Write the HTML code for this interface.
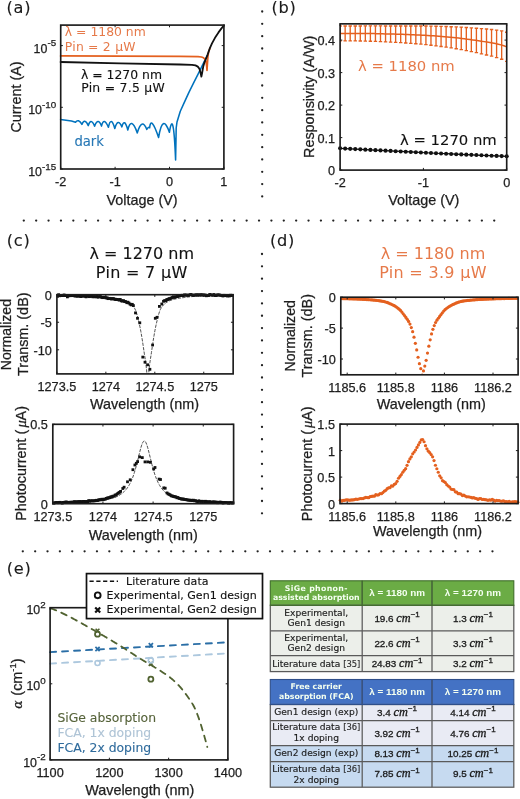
<!DOCTYPE html>
<html><head><meta charset="utf-8"><title>Figure</title>
<style>html,body{margin:0;padding:0;background:#fff;} svg{display:block;}</style>
</head><body>
<svg width="520" height="799" viewBox="0 0 520 799">
<rect width="520" height="799" fill="#fff"/>
<circle cx="23.8" cy="220.6" r="1.15" fill="#222"/>
<circle cx="36.18" cy="220.6" r="1.15" fill="#222"/>
<circle cx="48.56" cy="220.6" r="1.15" fill="#222"/>
<circle cx="60.94" cy="220.6" r="1.15" fill="#222"/>
<circle cx="73.32" cy="220.6" r="1.15" fill="#222"/>
<circle cx="85.7" cy="220.6" r="1.15" fill="#222"/>
<circle cx="98.08" cy="220.6" r="1.15" fill="#222"/>
<circle cx="110.46" cy="220.6" r="1.15" fill="#222"/>
<circle cx="122.84" cy="220.6" r="1.15" fill="#222"/>
<circle cx="135.22" cy="220.6" r="1.15" fill="#222"/>
<circle cx="147.6" cy="220.6" r="1.15" fill="#222"/>
<circle cx="159.98" cy="220.6" r="1.15" fill="#222"/>
<circle cx="172.36" cy="220.6" r="1.15" fill="#222"/>
<circle cx="184.74" cy="220.6" r="1.15" fill="#222"/>
<circle cx="197.12" cy="220.6" r="1.15" fill="#222"/>
<circle cx="209.5" cy="220.6" r="1.15" fill="#222"/>
<circle cx="221.88" cy="220.6" r="1.15" fill="#222"/>
<circle cx="234.26" cy="220.6" r="1.15" fill="#222"/>
<circle cx="246.64" cy="220.6" r="1.15" fill="#222"/>
<circle cx="259.02" cy="220.6" r="1.15" fill="#222"/>
<circle cx="271.4" cy="220.6" r="1.15" fill="#222"/>
<circle cx="283.78" cy="220.6" r="1.15" fill="#222"/>
<circle cx="296.16" cy="220.6" r="1.15" fill="#222"/>
<circle cx="308.54" cy="220.6" r="1.15" fill="#222"/>
<circle cx="320.92" cy="220.6" r="1.15" fill="#222"/>
<circle cx="333.3" cy="220.6" r="1.15" fill="#222"/>
<circle cx="345.68" cy="220.6" r="1.15" fill="#222"/>
<circle cx="358.06" cy="220.6" r="1.15" fill="#222"/>
<circle cx="370.44" cy="220.6" r="1.15" fill="#222"/>
<circle cx="382.82" cy="220.6" r="1.15" fill="#222"/>
<circle cx="395.2" cy="220.6" r="1.15" fill="#222"/>
<circle cx="407.58" cy="220.6" r="1.15" fill="#222"/>
<circle cx="419.96" cy="220.6" r="1.15" fill="#222"/>
<circle cx="432.34" cy="220.6" r="1.15" fill="#222"/>
<circle cx="444.72" cy="220.6" r="1.15" fill="#222"/>
<circle cx="457.1" cy="220.6" r="1.15" fill="#222"/>
<circle cx="469.48" cy="220.6" r="1.15" fill="#222"/>
<circle cx="481.86" cy="220.6" r="1.15" fill="#222"/>
<circle cx="494.24" cy="220.6" r="1.15" fill="#222"/>
<circle cx="22.8" cy="551.3" r="1.15" fill="#222"/>
<circle cx="35.16" cy="551.3" r="1.15" fill="#222"/>
<circle cx="47.52" cy="551.3" r="1.15" fill="#222"/>
<circle cx="59.88" cy="551.3" r="1.15" fill="#222"/>
<circle cx="72.24" cy="551.3" r="1.15" fill="#222"/>
<circle cx="84.6" cy="551.3" r="1.15" fill="#222"/>
<circle cx="96.96" cy="551.3" r="1.15" fill="#222"/>
<circle cx="109.32" cy="551.3" r="1.15" fill="#222"/>
<circle cx="121.68" cy="551.3" r="1.15" fill="#222"/>
<circle cx="134.04" cy="551.3" r="1.15" fill="#222"/>
<circle cx="146.4" cy="551.3" r="1.15" fill="#222"/>
<circle cx="158.76" cy="551.3" r="1.15" fill="#222"/>
<circle cx="171.12" cy="551.3" r="1.15" fill="#222"/>
<circle cx="183.48" cy="551.3" r="1.15" fill="#222"/>
<circle cx="195.84" cy="551.3" r="1.15" fill="#222"/>
<circle cx="208.2" cy="551.3" r="1.15" fill="#222"/>
<circle cx="220.56" cy="551.3" r="1.15" fill="#222"/>
<circle cx="232.92" cy="551.3" r="1.15" fill="#222"/>
<circle cx="245.28" cy="551.3" r="1.15" fill="#222"/>
<circle cx="257.64" cy="551.3" r="1.15" fill="#222"/>
<circle cx="270" cy="551.3" r="1.15" fill="#222"/>
<circle cx="282.36" cy="551.3" r="1.15" fill="#222"/>
<circle cx="294.72" cy="551.3" r="1.15" fill="#222"/>
<circle cx="307.08" cy="551.3" r="1.15" fill="#222"/>
<circle cx="319.44" cy="551.3" r="1.15" fill="#222"/>
<circle cx="331.8" cy="551.3" r="1.15" fill="#222"/>
<circle cx="344.16" cy="551.3" r="1.15" fill="#222"/>
<circle cx="356.52" cy="551.3" r="1.15" fill="#222"/>
<circle cx="368.88" cy="551.3" r="1.15" fill="#222"/>
<circle cx="381.24" cy="551.3" r="1.15" fill="#222"/>
<circle cx="393.6" cy="551.3" r="1.15" fill="#222"/>
<circle cx="405.96" cy="551.3" r="1.15" fill="#222"/>
<circle cx="418.32" cy="551.3" r="1.15" fill="#222"/>
<circle cx="430.68" cy="551.3" r="1.15" fill="#222"/>
<circle cx="443.04" cy="551.3" r="1.15" fill="#222"/>
<circle cx="455.4" cy="551.3" r="1.15" fill="#222"/>
<circle cx="467.76" cy="551.3" r="1.15" fill="#222"/>
<circle cx="480.12" cy="551.3" r="1.15" fill="#222"/>
<circle cx="492.48" cy="551.3" r="1.15" fill="#222"/>
<circle cx="262.2" cy="11.5" r="1.15" fill="#222"/>
<circle cx="262.2" cy="23.83" r="1.15" fill="#222"/>
<circle cx="262.2" cy="36.16" r="1.15" fill="#222"/>
<circle cx="262.2" cy="48.49" r="1.15" fill="#222"/>
<circle cx="262.2" cy="60.82" r="1.15" fill="#222"/>
<circle cx="262.2" cy="73.15" r="1.15" fill="#222"/>
<circle cx="262.2" cy="85.48" r="1.15" fill="#222"/>
<circle cx="262.2" cy="97.81" r="1.15" fill="#222"/>
<circle cx="262.2" cy="110.14" r="1.15" fill="#222"/>
<circle cx="262.2" cy="122.47" r="1.15" fill="#222"/>
<circle cx="262.2" cy="134.8" r="1.15" fill="#222"/>
<circle cx="262.2" cy="147.13" r="1.15" fill="#222"/>
<circle cx="262.2" cy="159.46" r="1.15" fill="#222"/>
<circle cx="262.2" cy="171.79" r="1.15" fill="#222"/>
<circle cx="262.2" cy="184.12" r="1.15" fill="#222"/>
<circle cx="262.2" cy="196.45" r="1.15" fill="#222"/>
<circle cx="262" cy="254" r="1.15" fill="#222"/>
<circle cx="262" cy="266.35" r="1.15" fill="#222"/>
<circle cx="262" cy="278.7" r="1.15" fill="#222"/>
<circle cx="262" cy="291.05" r="1.15" fill="#222"/>
<circle cx="262" cy="303.4" r="1.15" fill="#222"/>
<circle cx="262" cy="315.75" r="1.15" fill="#222"/>
<circle cx="262" cy="328.1" r="1.15" fill="#222"/>
<circle cx="262" cy="340.45" r="1.15" fill="#222"/>
<circle cx="262" cy="352.8" r="1.15" fill="#222"/>
<circle cx="262" cy="365.15" r="1.15" fill="#222"/>
<circle cx="262" cy="377.5" r="1.15" fill="#222"/>
<circle cx="262" cy="389.85" r="1.15" fill="#222"/>
<circle cx="262" cy="402.2" r="1.15" fill="#222"/>
<circle cx="262" cy="414.55" r="1.15" fill="#222"/>
<circle cx="262" cy="426.9" r="1.15" fill="#222"/>
<circle cx="262" cy="439.25" r="1.15" fill="#222"/>
<circle cx="262" cy="451.6" r="1.15" fill="#222"/>
<circle cx="262" cy="463.95" r="1.15" fill="#222"/>
<circle cx="262" cy="476.3" r="1.15" fill="#222"/>
<circle cx="262" cy="488.65" r="1.15" fill="#222"/>
<circle cx="262" cy="501" r="1.15" fill="#222"/>
<circle cx="262" cy="513.35" r="1.15" fill="#222"/>
<text x="6.6" y="12.7" font-family="DejaVu Sans" font-size="16.2" fill="#1a1a1a" stroke="#1a1a1a" stroke-width="0.12" letter-spacing="0.7">(a)</text>
<text x="271.4" y="12.7" font-family="DejaVu Sans" font-size="16.2" fill="#1a1a1a" stroke="#1a1a1a" stroke-width="0.12" letter-spacing="0.7">(b)</text>
<text x="6.8" y="245.9" font-family="DejaVu Sans" font-size="16.2" fill="#1a1a1a" stroke="#1a1a1a" stroke-width="0.12" letter-spacing="0.7">(c)</text>
<text x="269.9" y="245.6" font-family="DejaVu Sans" font-size="16.2" fill="#1a1a1a" stroke="#1a1a1a" stroke-width="0.12" letter-spacing="0.7">(d)</text>
<text x="6.8" y="573.5" font-family="DejaVu Sans" font-size="16.2" fill="#1a1a1a" stroke="#1a1a1a" stroke-width="0.12" letter-spacing="0.7">(e)</text>
<path d="M60.6 119.6 L66 120.2 L71.5 121.0 L75.5 122.2 Q78.3 118.3 81.9 124.4 Q84.5 117.6 88.3 125.6 Q90.75 117.15 94.6 126.1 Q98.15 116.9 101.5 126.1 Q103.85 116.3 108.4 127.3 Q111 115.1 114.8 128.5 Q117.85 117.3 121.9 126.9 Q124.35 117.15 127.8 130 Q131.05 115.75 137.3 132.9 Q141.75 117.25 146.8 129.4 Q149 126.2 149.6 127.8 Q150.9 114.75 158.6 137.5 Q162.6 112.5 169.4 132.3 Q173.5 106.45 175.6 160 L176.2 128 L177 122 L178 118.8 L180.3 111.3 L184.1 102.9 L188.8 92.6 L193.5 83.2 L198.2 73.8 L201.9 66.3 L204.7 60.6 L207.6 55" fill="none" stroke="#0072BD" stroke-width="1.55" stroke-linejoin="round" stroke-linecap="round"/>
<path d="M60.6 55.9 L120 56.2 L180 56.4 L198 56.6 L201.5 57 L203.5 57.8 L205 59.2 L206 61.8 L206.6 65.5 L207 70.5 L207.4 64 L207.9 57 L208.6 52 L210 48" fill="none" stroke="#E4601F" stroke-width="1.7" stroke-linejoin="round" stroke-linecap="round" />
<path d="M60.6 62 L120 63.3 L180 64.5 L192 64.9 L195.5 65.4 L197.8 66.6 L199.4 68.8 L200.5 72.5 L201.4 76.7 L202.2 72.5 L203.2 66.8 L204.5 62.3 L205.6 59.6 L207.6 54.6 L210 47.8 L212 43.4 L215 37.8 L218.5 32.4 L221.3 28.6 L224 25.3" fill="none" stroke="#111" stroke-width="1.8" stroke-linejoin="round" stroke-linecap="round" />
<rect x="60.7" y="25.1" width="163.2" height="143.9" fill="none" stroke="#1c1c1c" stroke-width="1.65"/>
<path d="M60.7 169 V166.8 M60.7 25.1 V27.3" stroke="#1c1c1c" stroke-width="1"/>
<path d="M115.1 169 V166.8 M115.1 25.1 V27.3" stroke="#1c1c1c" stroke-width="1"/>
<path d="M169.5 169 V166.8 M169.5 25.1 V27.3" stroke="#1c1c1c" stroke-width="1"/>
<path d="M223.9 169 V166.8 M223.9 25.1 V27.3" stroke="#1c1c1c" stroke-width="1"/>
<path d="M60.7 169 H62.9 M223.9 169 H221.7" stroke="#1c1c1c" stroke-width="1"/>
<path d="M60.7 107.3 H62.9 M223.9 107.3 H221.7" stroke="#1c1c1c" stroke-width="1"/>
<path d="M60.7 45.6 H62.9 M223.9 45.6 H221.7" stroke="#1c1c1c" stroke-width="1"/>
<text x="60.7" y="186.1" font-family="Liberation Sans" font-size="12.7" fill="#1e1e1e" stroke="#1e1e1e" stroke-width="0.25" text-anchor="middle" >-2</text>
<text x="115.1" y="186.1" font-family="Liberation Sans" font-size="12.7" fill="#1e1e1e" stroke="#1e1e1e" stroke-width="0.25" text-anchor="middle" >-1</text>
<text x="169.5" y="186.1" font-family="Liberation Sans" font-size="12.7" fill="#1e1e1e" stroke="#1e1e1e" stroke-width="0.25" text-anchor="middle" >0</text>
<text x="223.9" y="186.1" font-family="Liberation Sans" font-size="12.7" fill="#1e1e1e" stroke="#1e1e1e" stroke-width="0.25" text-anchor="middle" >1</text>
<text x="56.1" y="52.5" font-family="Liberation Sans" font-size="12.4" fill="#1e1e1e" stroke="#1e1e1e" stroke-width="0.25" text-anchor="end">10<tspan font-size="9.8" dy="-6.3">-5</tspan></text>
<text x="56.1" y="114.2" font-family="Liberation Sans" font-size="12.4" fill="#1e1e1e" stroke="#1e1e1e" stroke-width="0.25" text-anchor="end">10<tspan font-size="9.8" dy="-6.3">-10</tspan></text>
<text x="56.1" y="175.9" font-family="Liberation Sans" font-size="12.4" fill="#1e1e1e" stroke="#1e1e1e" stroke-width="0.25" text-anchor="end">10<tspan font-size="9.8" dy="-6.3">-15</tspan></text>
<text transform="translate(21.2,97) rotate(-90)" font-family="Liberation Sans" font-size="14.4" fill="#1e1e1e" stroke="#1e1e1e" stroke-width="0.25" text-anchor="middle" >Current (A)</text>
<text x="142" y="204.6" font-family="Liberation Sans" font-size="14.4" fill="#1e1e1e" stroke="#1e1e1e" stroke-width="0.25" text-anchor="middle" >Voltage (V)</text>
<text x="64.8" y="35.9" font-family="DejaVu Sans" font-size="12.4" fill="#E67A4A" >λ = 1180 nm</text>
<text x="64.8" y="50.5" font-family="DejaVu Sans" font-size="12.4" fill="#E67A4A" letter-spacing="0.22">Pin = 2 μW</text>
<text x="81" y="78.5" font-family="DejaVu Sans" font-size="12.4" fill="#111" stroke="#111" stroke-width="0.12" >λ = 1270 nm</text>
<text x="81.2" y="92.3" font-family="DejaVu Sans" font-size="12.4" fill="#111" stroke="#111" stroke-width="0.12" letter-spacing="0.27">Pin = 7.5 μW</text>
<text x="74.4" y="145.8" font-family="DejaVu Sans" font-size="13.2" fill="#2677B5" stroke="#2677B5" stroke-width="0.1" >dark</text>
<clipPath id="cb"><rect x="340.1" y="23.85" width="166.59999999999997" height="146.25"/></clipPath>
<g clip-path="url(#cb)">
<path d="M340.1 33.4 L342.92 33.4 L345.75 33.41 L348.57 33.41 L351.39 33.42 L354.22 33.44 L357.04 33.45 L359.87 33.47 L362.69 33.48 L365.51 33.5 L368.34 33.53 L371.16 33.57 L373.98 33.62 L376.81 33.68 L379.63 33.74 L382.46 33.81 L385.28 33.88 L388.1 33.95 L390.93 34.02 L393.75 34.1 L396.57 34.18 L399.4 34.26 L402.22 34.35 L405.05 34.45 L407.87 34.55 L410.69 34.66 L413.52 34.77 L416.34 34.89 L419.16 35.02 L421.99 35.15 L424.81 35.29 L427.64 35.45 L430.46 35.63 L433.28 35.82 L436.11 36.03 L438.93 36.25 L441.75 36.48 L444.58 36.72 L447.4 36.97 L450.23 37.24 L453.05 37.51 L455.87 37.79 L458.7 38.09 L461.52 38.42 L464.34 38.77 L467.17 39.14 L469.99 39.52 L472.82 39.93 L475.64 40.34 L478.46 40.77 L481.29 41.2 L484.11 41.63 L486.93 42.07 L489.76 42.53 L492.58 43.03 L495.41 43.57 L498.23 44.18 L501.05 44.88 L503.88 45.79 L506.7 46.83" fill="none" stroke="#E4601F" stroke-width="1.5" stroke-linejoin="round" stroke-linecap="round" />
<path d="M340.1 26 V40.8 M338.4 26 H341.8 M338.4 40.8 H341.8" stroke="#E4601F" stroke-width="1.35"/>
<path d="M345.15 26 V40.81 M343.45 26 H346.85 M343.45 40.81 H346.85" stroke="#E4601F" stroke-width="1.35"/>
<path d="M350.2 25.99 V40.85 M348.5 25.99 H351.9 M348.5 40.85 H351.9" stroke="#E4601F" stroke-width="1.35"/>
<path d="M355.25 25.98 V40.9 M353.55 25.98 H356.95 M353.55 40.9 H356.95" stroke="#E4601F" stroke-width="1.35"/>
<path d="M360.29 25.96 V40.98 M358.59 25.96 H361.99 M358.59 40.98 H361.99" stroke="#E4601F" stroke-width="1.35"/>
<path d="M365.34 25.94 V41.07 M363.64 25.94 H367.04 M363.64 41.07 H367.04" stroke="#E4601F" stroke-width="1.35"/>
<path d="M370.39 25.92 V41.2 M368.69 25.92 H372.09 M368.69 41.2 H372.09" stroke="#E4601F" stroke-width="1.35"/>
<path d="M375.44 25.92 V41.37 M373.74 25.92 H377.14 M373.74 41.37 H377.14" stroke="#E4601F" stroke-width="1.35"/>
<path d="M380.49 25.94 V41.58 M378.79 25.94 H382.19 M378.79 41.58 H382.19" stroke="#E4601F" stroke-width="1.35"/>
<path d="M385.54 25.95 V41.82 M383.84 25.95 H387.24 M383.84 41.82 H387.24" stroke="#E4601F" stroke-width="1.35"/>
<path d="M390.58 25.95 V42.08 M388.88 25.95 H392.28 M388.88 42.08 H392.28" stroke="#E4601F" stroke-width="1.35"/>
<path d="M395.63 25.95 V42.35 M393.93 25.95 H397.33 M393.93 42.35 H397.33" stroke="#E4601F" stroke-width="1.35"/>
<path d="M400.68 25.95 V42.66 M398.98 25.95 H402.38 M398.98 42.66 H402.38" stroke="#E4601F" stroke-width="1.35"/>
<path d="M405.73 25.96 V42.99 M404.03 25.96 H407.43 M404.03 42.99 H407.43" stroke="#E4601F" stroke-width="1.35"/>
<path d="M410.78 25.96 V43.36 M409.08 25.96 H412.48 M409.08 43.36 H412.48" stroke="#E4601F" stroke-width="1.35"/>
<path d="M415.83 25.98 V43.75 M414.13 25.98 H417.53 M414.13 43.75 H417.53" stroke="#E4601F" stroke-width="1.35"/>
<path d="M420.88 26 V44.19 M419.18 26 H422.58 M419.18 44.19 H422.58" stroke="#E4601F" stroke-width="1.35"/>
<path d="M425.92 26.04 V44.67 M424.22 26.04 H427.62 M424.22 44.67 H427.62" stroke="#E4601F" stroke-width="1.35"/>
<path d="M430.97 26.12 V45.21 M429.27 26.12 H432.67 M429.27 45.21 H432.67" stroke="#E4601F" stroke-width="1.35"/>
<path d="M436.02 26.23 V45.81 M434.32 26.23 H437.72 M434.32 45.81 H437.72" stroke="#E4601F" stroke-width="1.35"/>
<path d="M441.07 26.38 V46.47 M439.37 26.38 H442.77 M439.37 46.47 H442.77" stroke="#E4601F" stroke-width="1.35"/>
<path d="M446.12 26.54 V47.17 M444.42 26.54 H447.82 M444.42 47.17 H447.82" stroke="#E4601F" stroke-width="1.35"/>
<path d="M451.17 26.73 V47.93 M449.47 26.73 H452.87 M449.47 47.93 H452.87" stroke="#E4601F" stroke-width="1.35"/>
<path d="M456.22 26.93 V48.72 M454.52 26.93 H457.92 M454.52 48.72 H457.92" stroke="#E4601F" stroke-width="1.35"/>
<path d="M461.26 27.18 V49.59 M459.56 27.18 H462.96 M459.56 49.59 H462.96" stroke="#E4601F" stroke-width="1.35"/>
<path d="M466.31 27.49 V50.55 M464.61 27.49 H468.01 M464.61 50.55 H468.01" stroke="#E4601F" stroke-width="1.35"/>
<path d="M471.36 27.85 V51.59 M469.66 27.85 H473.06 M469.66 51.59 H473.06" stroke="#E4601F" stroke-width="1.35"/>
<path d="M476.41 28.24 V52.68 M474.71 28.24 H478.11 M474.71 52.68 H478.11" stroke="#E4601F" stroke-width="1.35"/>
<path d="M481.46 28.64 V53.81 M479.76 28.64 H483.16 M479.76 53.81 H483.16" stroke="#E4601F" stroke-width="1.35"/>
<path d="M486.51 29.04 V54.96 M484.81 29.04 H488.21 M484.81 54.96 H488.21" stroke="#E4601F" stroke-width="1.35"/>
<path d="M491.55 29.49 V56.19 M489.85 29.49 H493.25 M489.85 56.19 H493.25" stroke="#E4601F" stroke-width="1.35"/>
<path d="M496.6 30.07 V57.58 M494.9 30.07 H498.3 M494.9 57.58 H498.3" stroke="#E4601F" stroke-width="1.35"/>
<path d="M501.65 30.88 V59.23 M499.95 30.88 H503.35 M499.95 59.23 H503.35" stroke="#E4601F" stroke-width="1.35"/>
<path d="M506.7 32.23 V61.43 M505 32.23 H508.4 M505 61.43 H508.4" stroke="#E4601F" stroke-width="1.35"/>
</g>
<path d="M340.1 148.32 L345.15 148.58 L350.2 148.84 L355.25 149.11 L360.29 149.37 L365.34 149.63 L370.39 149.89 L375.44 150.15 L380.49 150.41 L385.54 150.67 L390.58 150.92 L395.63 151.18 L400.68 151.44 L405.73 151.7 L410.78 151.96 L415.83 152.22 L420.88 152.48 L425.92 152.73 L430.97 152.99 L436.02 153.24 L441.07 153.48 L446.12 153.72 L451.17 153.95 L456.22 154.18 L461.26 154.41 L466.31 154.63 L471.36 154.85 L476.41 155.07 L481.46 155.28 L486.51 155.49 L491.55 155.7 L496.6 155.9 L501.65 156.1 L506.7 156.29" fill="none" stroke="#111" stroke-width="1.2" stroke-linejoin="round" stroke-linecap="round" />
<circle cx="340.1" cy="148.32" r="2.05" fill="#111"/>
<circle cx="345.15" cy="148.58" r="2.05" fill="#111"/>
<circle cx="350.2" cy="148.84" r="2.05" fill="#111"/>
<circle cx="355.25" cy="149.11" r="2.05" fill="#111"/>
<circle cx="360.29" cy="149.37" r="2.05" fill="#111"/>
<circle cx="365.34" cy="149.63" r="2.05" fill="#111"/>
<circle cx="370.39" cy="149.89" r="2.05" fill="#111"/>
<circle cx="375.44" cy="150.15" r="2.05" fill="#111"/>
<circle cx="380.49" cy="150.41" r="2.05" fill="#111"/>
<circle cx="385.54" cy="150.67" r="2.05" fill="#111"/>
<circle cx="390.58" cy="150.92" r="2.05" fill="#111"/>
<circle cx="395.63" cy="151.18" r="2.05" fill="#111"/>
<circle cx="400.68" cy="151.44" r="2.05" fill="#111"/>
<circle cx="405.73" cy="151.7" r="2.05" fill="#111"/>
<circle cx="410.78" cy="151.96" r="2.05" fill="#111"/>
<circle cx="415.83" cy="152.22" r="2.05" fill="#111"/>
<circle cx="420.88" cy="152.48" r="2.05" fill="#111"/>
<circle cx="425.92" cy="152.73" r="2.05" fill="#111"/>
<circle cx="430.97" cy="152.99" r="2.05" fill="#111"/>
<circle cx="436.02" cy="153.24" r="2.05" fill="#111"/>
<circle cx="441.07" cy="153.48" r="2.05" fill="#111"/>
<circle cx="446.12" cy="153.72" r="2.05" fill="#111"/>
<circle cx="451.17" cy="153.95" r="2.05" fill="#111"/>
<circle cx="456.22" cy="154.18" r="2.05" fill="#111"/>
<circle cx="461.26" cy="154.41" r="2.05" fill="#111"/>
<circle cx="466.31" cy="154.63" r="2.05" fill="#111"/>
<circle cx="471.36" cy="154.85" r="2.05" fill="#111"/>
<circle cx="476.41" cy="155.07" r="2.05" fill="#111"/>
<circle cx="481.46" cy="155.28" r="2.05" fill="#111"/>
<circle cx="486.51" cy="155.49" r="2.05" fill="#111"/>
<circle cx="491.55" cy="155.7" r="2.05" fill="#111"/>
<circle cx="496.6" cy="155.9" r="2.05" fill="#111"/>
<circle cx="501.65" cy="156.1" r="2.05" fill="#111"/>
<circle cx="506.7" cy="156.29" r="2.05" fill="#111"/>
<rect x="340.1" y="23.85" width="166.6" height="146.25" fill="none" stroke="#1c1c1c" stroke-width="1.65"/>
<path d="M340.1 170.1 V167.9 M340.1 23.85 V26.05" stroke="#1c1c1c" stroke-width="1"/>
<path d="M423.4 170.1 V167.9 M423.4 23.85 V26.05" stroke="#1c1c1c" stroke-width="1"/>
<path d="M506.7 170.1 V167.9 M506.7 23.85 V26.05" stroke="#1c1c1c" stroke-width="1"/>
<path d="M340.1 170.1 H342.3 M506.7 170.1 H504.5" stroke="#1c1c1c" stroke-width="1"/>
<path d="M340.1 137.6 H342.3 M506.7 137.6 H504.5" stroke="#1c1c1c" stroke-width="1"/>
<path d="M340.1 105.1 H342.3 M506.7 105.1 H504.5" stroke="#1c1c1c" stroke-width="1"/>
<path d="M340.1 72.6 H342.3 M506.7 72.6 H504.5" stroke="#1c1c1c" stroke-width="1"/>
<path d="M340.1 40.1 H342.3 M506.7 40.1 H504.5" stroke="#1c1c1c" stroke-width="1"/>
<text x="340.1" y="187.2" font-family="Liberation Sans" font-size="12.7" fill="#1e1e1e" stroke="#1e1e1e" stroke-width="0.25" text-anchor="middle" >-2</text>
<text x="423.4" y="187.2" font-family="Liberation Sans" font-size="12.7" fill="#1e1e1e" stroke="#1e1e1e" stroke-width="0.25" text-anchor="middle" >-1</text>
<text x="506.7" y="187.2" font-family="Liberation Sans" font-size="12.7" fill="#1e1e1e" stroke="#1e1e1e" stroke-width="0.25" text-anchor="middle" >0</text>
<text x="335.1" y="175" font-family="Liberation Sans" font-size="12.7" fill="#1e1e1e" stroke="#1e1e1e" stroke-width="0.25" text-anchor="end" >0</text>
<text x="335.1" y="142.5" font-family="Liberation Sans" font-size="12.7" fill="#1e1e1e" stroke="#1e1e1e" stroke-width="0.25" text-anchor="end" >0.1</text>
<text x="335.1" y="110" font-family="Liberation Sans" font-size="12.7" fill="#1e1e1e" stroke="#1e1e1e" stroke-width="0.25" text-anchor="end" >0.2</text>
<text x="335.1" y="77.5" font-family="Liberation Sans" font-size="12.7" fill="#1e1e1e" stroke="#1e1e1e" stroke-width="0.25" text-anchor="end" >0.3</text>
<text x="335.1" y="45" font-family="Liberation Sans" font-size="12.7" fill="#1e1e1e" stroke="#1e1e1e" stroke-width="0.25" text-anchor="end" >0.4</text>
<text transform="translate(313.6,96.8) rotate(-90)" font-family="Liberation Sans" font-size="14.4" fill="#1e1e1e" stroke="#1e1e1e" stroke-width="0.25" text-anchor="middle" >Responsivity (A/W)</text>
<text x="423.8" y="205.3" font-family="Liberation Sans" font-size="14.4" fill="#1e1e1e" stroke="#1e1e1e" stroke-width="0.25" text-anchor="middle" >Voltage (V)</text>
<text x="358" y="70.5" font-family="DejaVu Sans" font-size="14.8" fill="#E67A4A" >λ = 1180 nm</text>
<text x="400" y="144.5" font-family="DejaVu Sans" font-size="14.8" fill="#111" stroke="#111" stroke-width="0.12" >λ = 1270 nm</text>
<clipPath id="cc1"><rect x="56.9" y="292.7" width="176.25" height="81.19999999999999"/></clipPath>
<g clip-path="url(#cc1)">
<path d="M56.9 294.77 L57.34 294.78 L57.78 294.78 L58.23 294.79 L58.67 294.8 L59.11 294.8 L59.55 294.81 L59.99 294.82 L60.43 294.83 L60.88 294.83 L61.32 294.84 L61.76 294.85 L62.2 294.86 L62.64 294.87 L63.08 294.88 L63.53 294.89 L63.97 294.9 L64.41 294.91 L64.85 294.92 L65.29 294.93 L65.73 294.94 L66.18 294.95 L66.62 294.96 L67.06 294.97 L67.5 294.98 L67.94 294.99 L68.38 295 L68.83 295.01 L69.27 295.02 L69.71 295.03 L70.15 295.05 L70.59 295.06 L71.04 295.07 L71.48 295.08 L71.92 295.09 L72.36 295.1 L72.8 295.12 L73.24 295.13 L73.69 295.14 L74.13 295.15 L74.57 295.16 L75.01 295.17 L75.45 295.19 L75.89 295.2 L76.34 295.21 L76.78 295.22 L77.22 295.24 L77.66 295.25 L78.1 295.26 L78.54 295.27 L78.99 295.28 L79.43 295.3 L79.87 295.31 L80.31 295.33 L80.75 295.34 L81.2 295.35 L81.64 295.37 L82.08 295.38 L82.52 295.4 L82.96 295.42 L83.4 295.43 L83.85 295.45 L84.29 295.47 L84.73 295.48 L85.17 295.5 L85.61 295.52 L86.05 295.54 L86.5 295.56 L86.94 295.57 L87.38 295.59 L87.82 295.61 L88.26 295.63 L88.7 295.66 L89.15 295.68 L89.59 295.7 L90.03 295.72 L90.47 295.74 L90.91 295.76 L91.35 295.79 L91.8 295.81 L92.24 295.83 L92.68 295.86 L93.12 295.88 L93.56 295.91 L94.01 295.93 L94.45 295.96 L94.89 295.98 L95.33 296.01 L95.77 296.04 L96.21 296.06 L96.66 296.09 L97.1 296.12 L97.54 296.15 L97.98 296.18 L98.42 296.21 L98.86 296.24 L99.31 296.27 L99.75 296.3 L100.19 296.33 L100.63 296.36 L101.07 296.39 L101.51 296.42 L101.96 296.46 L102.4 296.49 L102.84 296.52 L103.28 296.56 L103.72 296.59 L104.17 296.63 L104.61 296.67 L105.05 296.72 L105.49 296.76 L105.93 296.81 L106.37 296.86 L106.82 296.91 L107.26 296.96 L107.7 297.02 L108.14 297.07 L108.58 297.13 L109.02 297.19 L109.47 297.25 L109.91 297.31 L110.35 297.37 L110.79 297.43 L111.23 297.5 L111.67 297.56 L112.12 297.63 L112.56 297.69 L113 297.76 L113.44 297.83 L113.88 297.89 L114.32 297.96 L114.77 298.03 L115.21 298.1 L115.65 298.17 L116.09 298.24 L116.53 298.31 L116.98 298.39 L117.42 298.47 L117.86 298.54 L118.3 298.63 L118.74 298.71 L119.18 298.8 L119.63 298.89 L120.07 298.98 L120.51 299.08 L120.95 299.18 L121.39 299.28 L121.83 299.39 L122.28 299.51 L122.72 299.62 L123.16 299.75 L123.6 299.88 L124.04 300.01 L124.48 300.16 L124.93 300.31 L125.37 300.49 L125.81 300.67 L126.25 300.87 L126.69 301.08 L127.13 301.31 L127.58 301.55 L128.02 301.8 L128.46 302.06 L128.9 302.34 L129.34 302.63 L129.79 302.94 L130.23 303.26 L130.67 303.6 L131.11 303.97 L131.55 304.38 L131.99 304.82 L132.44 305.3 L132.88 305.83 L133.32 306.4 L133.76 307.01 L134.2 307.68 L134.64 308.4 L135.09 309.19 L135.53 310.13 L135.97 311.28 L136.41 312.61 L136.85 314.08 L137.29 315.69 L137.74 317.39 L138.18 319.18 L138.62 321.02 L139.06 322.89 L139.5 324.79 L139.95 326.85 L140.39 329.08 L140.83 331.45 L141.27 333.92 L141.71 336.48 L142.15 339.1 L142.6 341.88 L143.04 344.83 L143.48 347.87 L143.92 350.91 L144.36 353.83 L144.8 356.61 L145.25 359.43 L145.69 362.48 L146.13 365.94 L146.57 370.07 L147.01 375.1 L147.45 380.82 L147.9 384.26 L148.34 378.26 L148.78 372.81 L149.22 368.16 L149.66 364.37 L150.1 361.11 L150.55 358.19 L150.99 355.41 L151.43 352.59 L151.87 349.59 L152.31 346.54 L152.76 343.53 L153.2 340.64 L153.64 337.96 L154.08 335.36 L154.52 332.83 L154.96 330.4 L155.41 328.09 L155.85 325.93 L156.29 323.95 L156.73 322.07 L157.17 320.21 L157.61 318.39 L158.06 316.64 L158.5 314.97 L158.94 313.42 L159.38 312.01 L159.82 310.76 L160.26 309.69 L160.71 308.84 L161.15 308.08 L161.59 307.38 L162.03 306.74 L162.47 306.14 L162.92 305.59 L163.36 305.09 L163.8 304.62 L164.24 304.2 L164.68 303.81 L165.12 303.45 L165.57 303.12 L166.01 302.81 L166.45 302.51 L166.89 302.22 L167.33 301.95 L167.77 301.69 L168.22 301.44 L168.66 301.21 L169.1 300.99 L169.54 300.78 L169.98 300.59 L170.42 300.41 L170.87 300.24 L171.31 300.09 L171.75 299.95 L172.19 299.82 L172.63 299.69 L173.07 299.57 L173.52 299.46 L173.96 299.35 L174.4 299.24 L174.84 299.14 L175.28 299.04 L175.73 298.94 L176.17 298.85 L176.61 298.76 L177.05 298.67 L177.49 298.59 L177.93 298.51 L178.38 298.43 L178.82 298.36 L179.26 298.28 L179.7 298.21 L180.14 298.14 L180.58 298.07 L181.03 298 L181.47 297.93 L181.91 297.86 L182.35 297.8 L182.79 297.73 L183.23 297.67 L183.68 297.6 L184.12 297.53 L184.56 297.47 L185 297.41 L185.44 297.34 L185.88 297.28 L186.33 297.22 L186.77 297.16 L187.21 297.11 L187.65 297.05 L188.09 296.99 L188.54 296.94 L188.98 296.89 L189.42 296.84 L189.86 296.79 L190.3 296.74 L190.74 296.7 L191.19 296.66 L191.63 296.62 L192.07 296.58 L192.51 296.54 L192.95 296.51 L193.39 296.47 L193.84 296.44 L194.28 296.41 L194.72 296.38 L195.16 296.35 L195.6 296.31 L196.04 296.28 L196.49 296.25 L196.93 296.22 L197.37 296.19 L197.81 296.16 L198.25 296.14 L198.7 296.11 L199.14 296.08 L199.58 296.05 L200.02 296.03 L200.46 296 L200.9 295.97 L201.35 295.95 L201.79 295.92 L202.23 295.9 L202.67 295.87 L203.11 295.85 L203.55 295.82 L204 295.8 L204.44 295.78 L204.88 295.75 L205.32 295.73 L205.76 295.71 L206.2 295.69 L206.65 295.67 L207.09 295.65 L207.53 295.63 L207.97 295.61 L208.41 295.59 L208.85 295.57 L209.3 295.55 L209.74 295.53 L210.18 295.51 L210.62 295.49 L211.06 295.48 L211.51 295.46 L211.95 295.44 L212.39 295.42 L212.83 295.41 L213.27 295.39 L213.71 295.38 L214.16 295.36 L214.6 295.35 L215.04 295.33 L215.48 295.32 L215.92 295.31 L216.36 295.29 L216.81 295.28 L217.25 295.27 L217.69 295.25 L218.13 295.24 L218.57 295.23 L219.01 295.22 L219.46 295.21 L219.9 295.19 L220.34 295.18 L220.78 295.17 L221.22 295.16 L221.67 295.15 L222.11 295.13 L222.55 295.12 L222.99 295.11 L223.43 295.1 L223.87 295.09 L224.32 295.08 L224.76 295.06 L225.2 295.05 L225.64 295.04 L226.08 295.03 L226.52 295.02 L226.97 295.01 L227.41 295 L227.85 294.99 L228.29 294.97 L228.73 294.96 L229.17 294.95 L229.62 294.94 L230.06 294.93 L230.5 294.92 L230.94 294.91 L231.38 294.9 L231.82 294.89 L232.27 294.88 L232.71 294.87 L233.15 294.87" fill="none" stroke="#3a3a3a" stroke-width="0.9" stroke-linejoin="round" stroke-linecap="round" stroke-dasharray="2.5 2"/>
<rect x="56.1" y="294.92" width="2.8" height="2.8" fill="#111"/>
<rect x="57.2" y="293.31" width="2.8" height="2.8" fill="#111"/>
<rect x="58.3" y="294.36" width="2.8" height="2.8" fill="#111"/>
<rect x="59.4" y="294.03" width="2.8" height="2.8" fill="#111"/>
<rect x="60.5" y="294.08" width="2.8" height="2.8" fill="#111"/>
<rect x="61.6" y="294.18" width="2.8" height="2.8" fill="#111"/>
<rect x="62.7" y="293.56" width="2.8" height="2.8" fill="#111"/>
<rect x="63.8" y="294.2" width="2.8" height="2.8" fill="#111"/>
<rect x="64.9" y="294" width="2.8" height="2.8" fill="#111"/>
<rect x="66" y="295.48" width="2.8" height="2.8" fill="#111"/>
<rect x="67.1" y="294.42" width="2.8" height="2.8" fill="#111"/>
<rect x="68.2" y="294.24" width="2.8" height="2.8" fill="#111"/>
<rect x="69.3" y="294.28" width="2.8" height="2.8" fill="#111"/>
<rect x="70.4" y="294.17" width="2.8" height="2.8" fill="#111"/>
<rect x="71.5" y="294.06" width="2.8" height="2.8" fill="#111"/>
<rect x="72.6" y="294.32" width="2.8" height="2.8" fill="#111"/>
<rect x="73.7" y="294.65" width="2.8" height="2.8" fill="#111"/>
<rect x="74.8" y="294.42" width="2.8" height="2.8" fill="#111"/>
<rect x="75.9" y="294.87" width="2.8" height="2.8" fill="#111"/>
<rect x="77" y="294.49" width="2.8" height="2.8" fill="#111"/>
<rect x="78.1" y="294.6" width="2.8" height="2.8" fill="#111"/>
<rect x="79.2" y="295.16" width="2.8" height="2.8" fill="#111"/>
<rect x="80.3" y="294.84" width="2.8" height="2.8" fill="#111"/>
<rect x="81.4" y="294.5" width="2.8" height="2.8" fill="#111"/>
<rect x="82.5" y="294.64" width="2.8" height="2.8" fill="#111"/>
<rect x="83.6" y="294.93" width="2.8" height="2.8" fill="#111"/>
<rect x="84.7" y="295.46" width="2.8" height="2.8" fill="#111"/>
<rect x="85.8" y="294.73" width="2.8" height="2.8" fill="#111"/>
<rect x="86.9" y="294.78" width="2.8" height="2.8" fill="#111"/>
<rect x="88" y="295.26" width="2.8" height="2.8" fill="#111"/>
<rect x="89.1" y="294.65" width="2.8" height="2.8" fill="#111"/>
<rect x="90.2" y="294.91" width="2.8" height="2.8" fill="#111"/>
<rect x="91.3" y="295.38" width="2.8" height="2.8" fill="#111"/>
<rect x="92.4" y="295.33" width="2.8" height="2.8" fill="#111"/>
<rect x="93.5" y="295.23" width="2.8" height="2.8" fill="#111"/>
<rect x="94.6" y="295.5" width="2.8" height="2.8" fill="#111"/>
<rect x="95.7" y="294.37" width="2.8" height="2.8" fill="#111"/>
<rect x="96.8" y="295.82" width="2.8" height="2.8" fill="#111"/>
<rect x="97.9" y="295.25" width="2.8" height="2.8" fill="#111"/>
<rect x="99" y="295.13" width="2.8" height="2.8" fill="#111"/>
<rect x="100.1" y="295.95" width="2.8" height="2.8" fill="#111"/>
<rect x="101.2" y="296.24" width="2.8" height="2.8" fill="#111"/>
<rect x="102.3" y="295.99" width="2.8" height="2.8" fill="#111"/>
<rect x="103.4" y="295.92" width="2.8" height="2.8" fill="#111"/>
<rect x="104.5" y="296.46" width="2.8" height="2.8" fill="#111"/>
<rect x="105.6" y="296.58" width="2.8" height="2.8" fill="#111"/>
<rect x="106.7" y="297.24" width="2.8" height="2.8" fill="#111"/>
<rect x="107.8" y="297.17" width="2.8" height="2.8" fill="#111"/>
<rect x="108.9" y="297.13" width="2.8" height="2.8" fill="#111"/>
<rect x="110" y="297.62" width="2.8" height="2.8" fill="#111"/>
<rect x="111.1" y="297.33" width="2.8" height="2.8" fill="#111"/>
<rect x="112.2" y="297.25" width="2.8" height="2.8" fill="#111"/>
<rect x="113.3" y="297.97" width="2.8" height="2.8" fill="#111"/>
<rect x="114.4" y="298.17" width="2.8" height="2.8" fill="#111"/>
<rect x="115.5" y="298.1" width="2.8" height="2.8" fill="#111"/>
<rect x="116.6" y="298.13" width="2.8" height="2.8" fill="#111"/>
<rect x="117.7" y="298.74" width="2.8" height="2.8" fill="#111"/>
<rect x="118.8" y="298.05" width="2.8" height="2.8" fill="#111"/>
<rect x="119.9" y="299.45" width="2.8" height="2.8" fill="#111"/>
<rect x="121" y="299.69" width="2.8" height="2.8" fill="#111"/>
<rect x="122.1" y="299.27" width="2.8" height="2.8" fill="#111"/>
<rect x="123.2" y="300.22" width="2.8" height="2.8" fill="#111"/>
<rect x="124.3" y="300.26" width="2.8" height="2.8" fill="#111"/>
<rect x="125.4" y="301.3" width="2.8" height="2.8" fill="#111"/>
<rect x="126.5" y="300.79" width="2.8" height="2.8" fill="#111"/>
<rect x="127.6" y="301.68" width="2.8" height="2.8" fill="#111"/>
<rect x="128.7" y="302.78" width="2.8" height="2.8" fill="#111"/>
<rect x="129.8" y="303.5" width="2.8" height="2.8" fill="#111"/>
<rect x="130.9" y="302.95" width="2.8" height="2.8" fill="#111"/>
<rect x="132" y="304.17" width="2.8" height="2.8" fill="#111"/>
<rect x="162.1" y="299.9" width="2.8" height="2.8" fill="#111"/>
<rect x="163.2" y="299.19" width="2.8" height="2.8" fill="#111"/>
<rect x="164.3" y="299.41" width="2.8" height="2.8" fill="#111"/>
<rect x="165.4" y="298.13" width="2.8" height="2.8" fill="#111"/>
<rect x="166.5" y="298.12" width="2.8" height="2.8" fill="#111"/>
<rect x="167.6" y="297.2" width="2.8" height="2.8" fill="#111"/>
<rect x="168.7" y="297.48" width="2.8" height="2.8" fill="#111"/>
<rect x="169.8" y="296.64" width="2.8" height="2.8" fill="#111"/>
<rect x="170.9" y="296.13" width="2.8" height="2.8" fill="#111"/>
<rect x="172" y="295.37" width="2.8" height="2.8" fill="#111"/>
<rect x="173.1" y="296.06" width="2.8" height="2.8" fill="#111"/>
<rect x="174.2" y="295.47" width="2.8" height="2.8" fill="#111"/>
<rect x="175.3" y="295.19" width="2.8" height="2.8" fill="#111"/>
<rect x="176.4" y="295.06" width="2.8" height="2.8" fill="#111"/>
<rect x="177.5" y="294.64" width="2.8" height="2.8" fill="#111"/>
<rect x="178.6" y="294.19" width="2.8" height="2.8" fill="#111"/>
<rect x="179.7" y="294" width="2.8" height="2.8" fill="#111"/>
<rect x="180.8" y="293.88" width="2.8" height="2.8" fill="#111"/>
<rect x="181.9" y="294.43" width="2.8" height="2.8" fill="#111"/>
<rect x="183" y="293.5" width="2.8" height="2.8" fill="#111"/>
<rect x="184.1" y="293.7" width="2.8" height="2.8" fill="#111"/>
<rect x="185.2" y="293.73" width="2.8" height="2.8" fill="#111"/>
<rect x="186.3" y="293.84" width="2.8" height="2.8" fill="#111"/>
<rect x="187.4" y="293.9" width="2.8" height="2.8" fill="#111"/>
<rect x="188.5" y="293.31" width="2.8" height="2.8" fill="#111"/>
<rect x="189.6" y="293.12" width="2.8" height="2.8" fill="#111"/>
<rect x="190.7" y="293.6" width="2.8" height="2.8" fill="#111"/>
<rect x="191.8" y="293.94" width="2.8" height="2.8" fill="#111"/>
<rect x="192.9" y="293.77" width="2.8" height="2.8" fill="#111"/>
<rect x="194" y="293.59" width="2.8" height="2.8" fill="#111"/>
<rect x="195.1" y="293.42" width="2.8" height="2.8" fill="#111"/>
<rect x="196.2" y="293.59" width="2.8" height="2.8" fill="#111"/>
<rect x="197.3" y="293.43" width="2.8" height="2.8" fill="#111"/>
<rect x="198.4" y="293.75" width="2.8" height="2.8" fill="#111"/>
<rect x="199.5" y="293.27" width="2.8" height="2.8" fill="#111"/>
<rect x="200.6" y="293.56" width="2.8" height="2.8" fill="#111"/>
<rect x="201.7" y="293.51" width="2.8" height="2.8" fill="#111"/>
<rect x="202.8" y="293.72" width="2.8" height="2.8" fill="#111"/>
<rect x="203.9" y="293.65" width="2.8" height="2.8" fill="#111"/>
<rect x="205" y="294.37" width="2.8" height="2.8" fill="#111"/>
<rect x="206.1" y="294.08" width="2.8" height="2.8" fill="#111"/>
<rect x="207.2" y="294.1" width="2.8" height="2.8" fill="#111"/>
<rect x="208.3" y="293.07" width="2.8" height="2.8" fill="#111"/>
<rect x="209.4" y="293.6" width="2.8" height="2.8" fill="#111"/>
<rect x="210.5" y="293.55" width="2.8" height="2.8" fill="#111"/>
<rect x="211.6" y="293.92" width="2.8" height="2.8" fill="#111"/>
<rect x="212.7" y="293.1" width="2.8" height="2.8" fill="#111"/>
<rect x="213.8" y="294.16" width="2.8" height="2.8" fill="#111"/>
<rect x="214.9" y="294.15" width="2.8" height="2.8" fill="#111"/>
<rect x="216" y="293.46" width="2.8" height="2.8" fill="#111"/>
<rect x="217.1" y="293.58" width="2.8" height="2.8" fill="#111"/>
<rect x="218.2" y="293.65" width="2.8" height="2.8" fill="#111"/>
<rect x="219.3" y="293.93" width="2.8" height="2.8" fill="#111"/>
<rect x="220.4" y="294.13" width="2.8" height="2.8" fill="#111"/>
<rect x="221.5" y="294.58" width="2.8" height="2.8" fill="#111"/>
<rect x="222.6" y="293.93" width="2.8" height="2.8" fill="#111"/>
<rect x="223.7" y="294.25" width="2.8" height="2.8" fill="#111"/>
<rect x="224.8" y="294.09" width="2.8" height="2.8" fill="#111"/>
<rect x="225.9" y="294.59" width="2.8" height="2.8" fill="#111"/>
<rect x="227" y="294.31" width="2.8" height="2.8" fill="#111"/>
<rect x="228.1" y="294.53" width="2.8" height="2.8" fill="#111"/>
<rect x="229.2" y="293.82" width="2.8" height="2.8" fill="#111"/>
<rect x="230.3" y="294.11" width="2.8" height="2.8" fill="#111"/>
<rect x="231.4" y="293.95" width="2.8" height="2.8" fill="#111"/>
<rect x="134.1" y="311.5" width="2.8" height="2.8" fill="#111"/>
<rect x="136.1" y="316.9" width="2.8" height="2.8" fill="#111"/>
<rect x="138.4" y="321.4" width="2.8" height="2.8" fill="#111"/>
<rect x="141.4" y="355.7" width="2.8" height="2.8" fill="#111"/>
<rect x="143.6" y="360.8" width="2.8" height="2.8" fill="#111"/>
<rect x="146.2" y="363.4" width="2.8" height="2.8" fill="#111"/>
<rect x="148.5" y="367.9" width="2.8" height="2.8" fill="#111"/>
<rect x="151.2" y="343.6" width="2.8" height="2.8" fill="#111"/>
<rect x="153.9" y="316.9" width="2.8" height="2.8" fill="#111"/>
<rect x="155.6" y="315.9" width="2.8" height="2.8" fill="#111"/>
<rect x="158" y="305" width="2.8" height="2.8" fill="#111"/>
<rect x="160.4" y="302.6" width="2.8" height="2.8" fill="#111"/>
</g>
<rect x="56.9" y="294.7" width="176.25" height="79.2" fill="none" stroke="#1c1c1c" stroke-width="1.65"/>
<path d="M56.9 373.9 V371.7 M56.9 294.7 V296.9" stroke="#1c1c1c" stroke-width="1"/>
<path d="M105.85 373.9 V371.7 M105.85 294.7 V296.9" stroke="#1c1c1c" stroke-width="1"/>
<path d="M154.8 373.9 V371.7 M154.8 294.7 V296.9" stroke="#1c1c1c" stroke-width="1"/>
<path d="M203.75 373.9 V371.7 M203.75 294.7 V296.9" stroke="#1c1c1c" stroke-width="1"/>
<path d="M56.9 294.7 H59.1 M233.15 294.7 H230.95" stroke="#1c1c1c" stroke-width="1"/>
<path d="M56.9 322.25 H59.1 M233.15 322.25 H230.95" stroke="#1c1c1c" stroke-width="1"/>
<path d="M56.9 349.8 H59.1 M233.15 349.8 H230.95" stroke="#1c1c1c" stroke-width="1"/>
<text x="56.9" y="391" font-family="Liberation Sans" font-size="12.7" fill="#1e1e1e" stroke="#1e1e1e" stroke-width="0.25" text-anchor="middle" >1273.5</text>
<text x="105.85" y="391" font-family="Liberation Sans" font-size="12.7" fill="#1e1e1e" stroke="#1e1e1e" stroke-width="0.25" text-anchor="middle" >1274</text>
<text x="154.8" y="391" font-family="Liberation Sans" font-size="12.7" fill="#1e1e1e" stroke="#1e1e1e" stroke-width="0.25" text-anchor="middle" >1274.5</text>
<text x="203.75" y="391" font-family="Liberation Sans" font-size="12.7" fill="#1e1e1e" stroke="#1e1e1e" stroke-width="0.25" text-anchor="middle" >1275</text>
<text x="51.9" y="299.6" font-family="Liberation Sans" font-size="12.7" fill="#1e1e1e" stroke="#1e1e1e" stroke-width="0.25" text-anchor="end" >0</text>
<text x="51.9" y="327.15" font-family="Liberation Sans" font-size="12.7" fill="#1e1e1e" stroke="#1e1e1e" stroke-width="0.25" text-anchor="end" >-5</text>
<text x="51.9" y="354.7" font-family="Liberation Sans" font-size="12.7" fill="#1e1e1e" stroke="#1e1e1e" stroke-width="0.25" text-anchor="end" >-10</text>
<text transform="translate(10.7,334.6) rotate(-90)" font-family="Liberation Sans" font-size="14.1" fill="#1e1e1e" stroke="#1e1e1e" stroke-width="0.25" text-anchor="middle" >Normalized</text>
<text transform="translate(28.2,334.2) rotate(-90)" font-family="Liberation Sans" font-size="14.4" fill="#1e1e1e" stroke="#1e1e1e" stroke-width="0.25" text-anchor="middle" >Transm. (dB)</text>
<text x="144.6" y="408.8" font-family="Liberation Sans" font-size="14.4" fill="#1e1e1e" stroke="#1e1e1e" stroke-width="0.25" text-anchor="middle" >Wavelength (nm)</text>
<text x="141.7" y="259" font-family="DejaVu Sans" font-size="16" fill="#111" stroke="#111" stroke-width="0.12" text-anchor="middle" >λ = 1270 nm</text>
<text x="141.7" y="278" font-family="DejaVu Sans" font-size="16" fill="#111" stroke="#111" stroke-width="0.12" text-anchor="middle" letter-spacing="0.3">Pin = 7 μW</text>
<path d="M52.8 502.98 L53.4 502.97 L54.01 502.96 L54.61 502.95 L55.22 502.94 L55.82 502.93 L56.43 502.92 L57.03 502.91 L57.64 502.9 L58.24 502.89 L58.85 502.88 L59.45 502.87 L60.06 502.85 L60.66 502.84 L61.27 502.83 L61.87 502.82 L62.47 502.8 L63.08 502.79 L63.68 502.78 L64.29 502.76 L64.89 502.75 L65.5 502.74 L66.1 502.72 L66.71 502.71 L67.31 502.69 L67.92 502.67 L68.52 502.66 L69.13 502.64 L69.73 502.62 L70.34 502.61 L70.94 502.59 L71.55 502.57 L72.15 502.55 L72.75 502.53 L73.36 502.51 L73.96 502.49 L74.57 502.47 L75.17 502.45 L75.78 502.43 L76.38 502.41 L76.99 502.39 L77.59 502.36 L78.2 502.34 L78.8 502.31 L79.41 502.29 L80.01 502.26 L80.62 502.23 L81.22 502.21 L81.82 502.18 L82.43 502.15 L83.03 502.12 L83.64 502.09 L84.24 502.06 L84.85 502.02 L85.45 501.99 L86.06 501.96 L86.66 501.92 L87.27 501.88 L87.87 501.85 L88.48 501.81 L89.08 501.77 L89.69 501.72 L90.29 501.68 L90.89 501.64 L91.5 501.59 L92.1 501.54 L92.71 501.49 L93.31 501.44 L93.92 501.39 L94.52 501.34 L95.13 501.28 L95.73 501.22 L96.34 501.16 L96.94 501.1 L97.55 501.03 L98.15 500.97 L98.76 500.9 L99.36 500.82 L99.97 500.75 L100.57 500.67 L101.17 500.59 L101.78 500.51 L102.38 500.42 L102.99 500.33 L103.59 500.23 L104.2 500.13 L104.8 500.03 L105.41 499.92 L106.01 499.81 L106.62 499.69 L107.22 499.57 L107.83 499.44 L108.43 499.3 L109.04 499.16 L109.64 499.01 L110.24 498.86 L110.85 498.7 L111.45 498.52 L112.06 498.35 L112.66 498.16 L113.27 497.96 L113.87 497.75 L114.48 497.53 L115.08 497.3 L115.69 497.05 L116.29 496.8 L116.9 496.52 L117.5 496.23 L118.11 495.93 L118.71 495.61 L119.32 495.26 L119.92 494.9 L120.52 494.51 L121.13 494.1 L121.73 493.66 L122.34 493.2 L122.94 492.7 L123.55 492.17 L124.15 491.6 L124.76 490.99 L125.36 490.34 L125.97 489.65 L126.57 488.9 L127.18 488.11 L127.78 487.25 L128.39 486.33 L128.99 485.34 L129.59 484.27 L130.2 483.13 L130.8 481.9 L131.41 480.58 L132.01 479.16 L132.62 477.64 L133.22 476 L133.83 474.26 L134.43 472.39 L135.04 470.41 L135.64 468.32 L136.25 466.11 L136.85 463.8 L137.46 461.4 L138.06 458.94 L138.66 456.44 L139.27 453.95 L139.87 451.51 L140.48 449.18 L141.08 447.02 L141.69 445.09 L142.29 443.47 L142.9 442.22 L143.5 441.38 L144.11 441 L144.71 441.08 L145.32 441.63 L145.92 442.63 L146.53 444.02 L147.13 445.76 L147.74 447.78 L148.34 450.01 L148.94 452.38 L149.55 454.85 L150.15 457.35 L150.76 459.83 L151.36 462.27 L151.97 464.64 L152.57 466.92 L153.18 469.09 L153.78 471.14 L154.39 473.08 L154.99 474.9 L155.6 476.61 L156.2 478.2 L156.81 479.68 L157.41 481.07 L158.01 482.35 L158.62 483.55 L159.22 484.67 L159.83 485.7 L160.43 486.67 L161.04 487.57 L161.64 488.4 L162.25 489.18 L162.85 489.91 L163.46 490.58 L164.06 491.22 L164.67 491.81 L165.27 492.36 L165.88 492.88 L166.48 493.37 L167.08 493.82 L167.69 494.25 L168.29 494.65 L168.9 495.03 L169.5 495.39 L170.11 495.72 L170.71 496.04 L171.32 496.34 L171.92 496.62 L172.53 496.89 L173.13 497.14 L173.74 497.38 L174.34 497.61 L174.95 497.83 L175.55 498.03 L176.16 498.23 L176.76 498.41 L177.36 498.59 L177.97 498.75 L178.57 498.91 L179.18 499.07 L179.78 499.21 L180.39 499.35 L180.99 499.48 L181.6 499.61 L182.2 499.73 L182.81 499.85 L183.41 499.96 L184.02 500.07 L184.62 500.17 L185.23 500.27 L185.83 500.36 L186.43 500.45 L187.04 500.54 L187.64 500.62 L188.25 500.7 L188.85 500.78 L189.46 500.85 L190.06 500.92 L190.67 500.99 L191.27 501.06 L191.88 501.12 L192.48 501.18 L193.09 501.24 L193.69 501.3 L194.3 501.36 L194.9 501.41 L195.51 501.46 L196.11 501.51 L196.71 501.56 L197.32 501.61 L197.92 501.65 L198.53 501.7 L199.13 501.74 L199.74 501.78 L200.34 501.82 L200.95 501.86 L201.55 501.9 L202.16 501.93 L202.76 501.97 L203.37 502 L203.97 502.04 L204.58 502.07 L205.18 502.1 L205.78 502.13 L206.39 502.16 L206.99 502.19 L207.6 502.22 L208.2 502.24 L208.81 502.27 L209.41 502.3 L210.02 502.32 L210.62 502.35 L211.23 502.37 L211.83 502.39 L212.44 502.42 L213.04 502.44 L213.65 502.46 L214.25 502.48 L214.85 502.5 L215.46 502.52 L216.06 502.54 L216.67 502.56 L217.27 502.58 L217.88 502.6 L218.48 502.61 L219.09 502.63 L219.69 502.65 L220.3 502.66 L220.9 502.68 L221.51 502.7 L222.11 502.71 L222.72 502.73 L223.32 502.74 L223.93 502.75 L224.53 502.77 L225.13 502.78 L225.74 502.8 L226.34 502.81 L226.95 502.82 L227.55 502.83 L228.16 502.85 L228.76 502.86 L229.37 502.87 L229.97 502.88 L230.58 502.89 L231.18 502.9 L231.79 502.91 L232.39 502.93 L233 502.94 L233.6 502.95" fill="none" stroke="#3a3a3a" stroke-width="0.9" stroke-linejoin="round" stroke-linecap="round" stroke-dasharray="2.5 2"/>
<rect x="52.1" y="501.69" width="2.8" height="2.8" fill="#111"/>
<rect x="53.2" y="501.46" width="2.8" height="2.8" fill="#111"/>
<rect x="54.3" y="501.19" width="2.8" height="2.8" fill="#111"/>
<rect x="55.4" y="501.13" width="2.8" height="2.8" fill="#111"/>
<rect x="56.5" y="501.33" width="2.8" height="2.8" fill="#111"/>
<rect x="57.6" y="501.01" width="2.8" height="2.8" fill="#111"/>
<rect x="58.7" y="500.92" width="2.8" height="2.8" fill="#111"/>
<rect x="59.8" y="501.25" width="2.8" height="2.8" fill="#111"/>
<rect x="60.9" y="501.71" width="2.8" height="2.8" fill="#111"/>
<rect x="62" y="501" width="2.8" height="2.8" fill="#111"/>
<rect x="63.1" y="500.89" width="2.8" height="2.8" fill="#111"/>
<rect x="64.2" y="500.7" width="2.8" height="2.8" fill="#111"/>
<rect x="65.3" y="500.62" width="2.8" height="2.8" fill="#111"/>
<rect x="66.4" y="501.05" width="2.8" height="2.8" fill="#111"/>
<rect x="67.5" y="501.09" width="2.8" height="2.8" fill="#111"/>
<rect x="68.6" y="500.84" width="2.8" height="2.8" fill="#111"/>
<rect x="69.7" y="500.88" width="2.8" height="2.8" fill="#111"/>
<rect x="70.8" y="500.78" width="2.8" height="2.8" fill="#111"/>
<rect x="71.9" y="500.73" width="2.8" height="2.8" fill="#111"/>
<rect x="73" y="500.27" width="2.8" height="2.8" fill="#111"/>
<rect x="74.1" y="500.48" width="2.8" height="2.8" fill="#111"/>
<rect x="75.2" y="500.57" width="2.8" height="2.8" fill="#111"/>
<rect x="76.3" y="500.29" width="2.8" height="2.8" fill="#111"/>
<rect x="77.4" y="500.3" width="2.8" height="2.8" fill="#111"/>
<rect x="78.5" y="500.16" width="2.8" height="2.8" fill="#111"/>
<rect x="79.6" y="500.21" width="2.8" height="2.8" fill="#111"/>
<rect x="80.7" y="500.44" width="2.8" height="2.8" fill="#111"/>
<rect x="81.8" y="500.05" width="2.8" height="2.8" fill="#111"/>
<rect x="82.9" y="500.03" width="2.8" height="2.8" fill="#111"/>
<rect x="84" y="500.19" width="2.8" height="2.8" fill="#111"/>
<rect x="85.1" y="500.07" width="2.8" height="2.8" fill="#111"/>
<rect x="86.2" y="500.24" width="2.8" height="2.8" fill="#111"/>
<rect x="87.3" y="499.19" width="2.8" height="2.8" fill="#111"/>
<rect x="88.4" y="499.83" width="2.8" height="2.8" fill="#111"/>
<rect x="89.5" y="499.39" width="2.8" height="2.8" fill="#111"/>
<rect x="90.6" y="499.43" width="2.8" height="2.8" fill="#111"/>
<rect x="91.7" y="499.48" width="2.8" height="2.8" fill="#111"/>
<rect x="92.8" y="499.41" width="2.8" height="2.8" fill="#111"/>
<rect x="93.9" y="499.27" width="2.8" height="2.8" fill="#111"/>
<rect x="95" y="498.9" width="2.8" height="2.8" fill="#111"/>
<rect x="96.1" y="499.11" width="2.8" height="2.8" fill="#111"/>
<rect x="97.2" y="498.47" width="2.8" height="2.8" fill="#111"/>
<rect x="98.3" y="498.33" width="2.8" height="2.8" fill="#111"/>
<rect x="99.4" y="498.37" width="2.8" height="2.8" fill="#111"/>
<rect x="100.5" y="497.83" width="2.8" height="2.8" fill="#111"/>
<rect x="101.6" y="498.29" width="2.8" height="2.8" fill="#111"/>
<rect x="102.7" y="497.77" width="2.8" height="2.8" fill="#111"/>
<rect x="103.8" y="497.81" width="2.8" height="2.8" fill="#111"/>
<rect x="104.9" y="496.98" width="2.8" height="2.8" fill="#111"/>
<rect x="106" y="496.6" width="2.8" height="2.8" fill="#111"/>
<rect x="107.1" y="496.42" width="2.8" height="2.8" fill="#111"/>
<rect x="108.2" y="496.22" width="2.8" height="2.8" fill="#111"/>
<rect x="109.3" y="495.51" width="2.8" height="2.8" fill="#111"/>
<rect x="110.4" y="495.35" width="2.8" height="2.8" fill="#111"/>
<rect x="111.5" y="494.81" width="2.8" height="2.8" fill="#111"/>
<rect x="112.6" y="494.73" width="2.8" height="2.8" fill="#111"/>
<rect x="113.7" y="493.64" width="2.8" height="2.8" fill="#111"/>
<rect x="114.8" y="493.49" width="2.8" height="2.8" fill="#111"/>
<rect x="115.9" y="492.43" width="2.8" height="2.8" fill="#111"/>
<rect x="117" y="491.66" width="2.8" height="2.8" fill="#111"/>
<rect x="118.1" y="490.96" width="2.8" height="2.8" fill="#111"/>
<rect x="119.2" y="490" width="2.8" height="2.8" fill="#111"/>
<rect x="165.6" y="491.53" width="2.8" height="2.8" fill="#111"/>
<rect x="166.7" y="492.48" width="2.8" height="2.8" fill="#111"/>
<rect x="167.8" y="492.93" width="2.8" height="2.8" fill="#111"/>
<rect x="168.9" y="493.65" width="2.8" height="2.8" fill="#111"/>
<rect x="170" y="494.46" width="2.8" height="2.8" fill="#111"/>
<rect x="171.1" y="494.62" width="2.8" height="2.8" fill="#111"/>
<rect x="172.2" y="495.07" width="2.8" height="2.8" fill="#111"/>
<rect x="173.3" y="495.37" width="2.8" height="2.8" fill="#111"/>
<rect x="174.4" y="495.43" width="2.8" height="2.8" fill="#111"/>
<rect x="175.5" y="496.38" width="2.8" height="2.8" fill="#111"/>
<rect x="176.6" y="496.09" width="2.8" height="2.8" fill="#111"/>
<rect x="177.7" y="496.99" width="2.8" height="2.8" fill="#111"/>
<rect x="178.8" y="497.11" width="2.8" height="2.8" fill="#111"/>
<rect x="179.9" y="497.66" width="2.8" height="2.8" fill="#111"/>
<rect x="181" y="497.61" width="2.8" height="2.8" fill="#111"/>
<rect x="182.1" y="497.64" width="2.8" height="2.8" fill="#111"/>
<rect x="183.2" y="498.15" width="2.8" height="2.8" fill="#111"/>
<rect x="184.3" y="498.12" width="2.8" height="2.8" fill="#111"/>
<rect x="185.4" y="498.4" width="2.8" height="2.8" fill="#111"/>
<rect x="186.5" y="498.63" width="2.8" height="2.8" fill="#111"/>
<rect x="187.6" y="498.74" width="2.8" height="2.8" fill="#111"/>
<rect x="188.7" y="498.88" width="2.8" height="2.8" fill="#111"/>
<rect x="189.8" y="498.86" width="2.8" height="2.8" fill="#111"/>
<rect x="190.9" y="499.16" width="2.8" height="2.8" fill="#111"/>
<rect x="192" y="498.79" width="2.8" height="2.8" fill="#111"/>
<rect x="193.1" y="499.41" width="2.8" height="2.8" fill="#111"/>
<rect x="194.2" y="499.26" width="2.8" height="2.8" fill="#111"/>
<rect x="195.3" y="499.94" width="2.8" height="2.8" fill="#111"/>
<rect x="196.4" y="500.08" width="2.8" height="2.8" fill="#111"/>
<rect x="197.5" y="499.37" width="2.8" height="2.8" fill="#111"/>
<rect x="198.6" y="499.98" width="2.8" height="2.8" fill="#111"/>
<rect x="199.7" y="500" width="2.8" height="2.8" fill="#111"/>
<rect x="200.8" y="499.85" width="2.8" height="2.8" fill="#111"/>
<rect x="201.9" y="500.32" width="2.8" height="2.8" fill="#111"/>
<rect x="203" y="500.14" width="2.8" height="2.8" fill="#111"/>
<rect x="204.1" y="499.88" width="2.8" height="2.8" fill="#111"/>
<rect x="205.2" y="500.32" width="2.8" height="2.8" fill="#111"/>
<rect x="206.3" y="500.41" width="2.8" height="2.8" fill="#111"/>
<rect x="207.4" y="500.54" width="2.8" height="2.8" fill="#111"/>
<rect x="208.5" y="500.26" width="2.8" height="2.8" fill="#111"/>
<rect x="209.6" y="500.77" width="2.8" height="2.8" fill="#111"/>
<rect x="210.7" y="500.86" width="2.8" height="2.8" fill="#111"/>
<rect x="211.8" y="500.43" width="2.8" height="2.8" fill="#111"/>
<rect x="212.9" y="500.6" width="2.8" height="2.8" fill="#111"/>
<rect x="214" y="500.79" width="2.8" height="2.8" fill="#111"/>
<rect x="215.1" y="500.71" width="2.8" height="2.8" fill="#111"/>
<rect x="216.2" y="501.33" width="2.8" height="2.8" fill="#111"/>
<rect x="217.3" y="500.99" width="2.8" height="2.8" fill="#111"/>
<rect x="218.4" y="500.72" width="2.8" height="2.8" fill="#111"/>
<rect x="219.5" y="500.81" width="2.8" height="2.8" fill="#111"/>
<rect x="220.6" y="501.03" width="2.8" height="2.8" fill="#111"/>
<rect x="221.7" y="501.65" width="2.8" height="2.8" fill="#111"/>
<rect x="222.8" y="501.06" width="2.8" height="2.8" fill="#111"/>
<rect x="223.9" y="501.17" width="2.8" height="2.8" fill="#111"/>
<rect x="225" y="501.3" width="2.8" height="2.8" fill="#111"/>
<rect x="226.1" y="501.19" width="2.8" height="2.8" fill="#111"/>
<rect x="227.2" y="501.8" width="2.8" height="2.8" fill="#111"/>
<rect x="228.3" y="501.12" width="2.8" height="2.8" fill="#111"/>
<rect x="229.4" y="501.46" width="2.8" height="2.8" fill="#111"/>
<rect x="230.5" y="501.34" width="2.8" height="2.8" fill="#111"/>
<rect x="231.6" y="501.48" width="2.8" height="2.8" fill="#111"/>
<rect x="121.4" y="487.1" width="2.8" height="2.8" fill="#111"/>
<rect x="122.7" y="485.8" width="2.8" height="2.8" fill="#111"/>
<rect x="126.1" y="480.4" width="2.8" height="2.8" fill="#111"/>
<rect x="128.8" y="478.4" width="2.8" height="2.8" fill="#111"/>
<rect x="131.5" y="468.3" width="2.8" height="2.8" fill="#111"/>
<rect x="133.5" y="463.6" width="2.8" height="2.8" fill="#111"/>
<rect x="134.9" y="461.9" width="2.8" height="2.8" fill="#111"/>
<rect x="136.2" y="460.2" width="2.8" height="2.8" fill="#111"/>
<rect x="138.2" y="455.5" width="2.8" height="2.8" fill="#111"/>
<rect x="140.9" y="456.2" width="2.8" height="2.8" fill="#111"/>
<rect x="143.6" y="460.5" width="2.8" height="2.8" fill="#111"/>
<rect x="146.3" y="460.5" width="2.8" height="2.8" fill="#111"/>
<rect x="149" y="460.9" width="2.8" height="2.8" fill="#111"/>
<rect x="152.3" y="467.6" width="2.8" height="2.8" fill="#111"/>
<rect x="153.6" y="466.1" width="2.8" height="2.8" fill="#111"/>
<rect x="157.7" y="477.7" width="2.8" height="2.8" fill="#111"/>
<rect x="159.1" y="478.1" width="2.8" height="2.8" fill="#111"/>
<rect x="162.4" y="486.5" width="2.8" height="2.8" fill="#111"/>
<rect x="163.8" y="486.8" width="2.8" height="2.8" fill="#111"/>
<rect x="52.8" y="424.3" width="180.8" height="79.4" fill="none" stroke="#1c1c1c" stroke-width="1.65"/>
<path d="M52.8 503.7 V501.5 M52.8 424.3 V426.5" stroke="#1c1c1c" stroke-width="1"/>
<path d="M102.95 503.7 V501.5 M102.95 424.3 V426.5" stroke="#1c1c1c" stroke-width="1"/>
<path d="M153.1 503.7 V501.5 M153.1 424.3 V426.5" stroke="#1c1c1c" stroke-width="1"/>
<path d="M203.25 503.7 V501.5 M203.25 424.3 V426.5" stroke="#1c1c1c" stroke-width="1"/>
<path d="M52.8 503.7 H55 M233.6 503.7 H231.4" stroke="#1c1c1c" stroke-width="1"/>
<path d="M52.8 424.3 H55 M233.6 424.3 H231.4" stroke="#1c1c1c" stroke-width="1"/>
<text x="52.8" y="520.8" font-family="Liberation Sans" font-size="12.7" fill="#1e1e1e" stroke="#1e1e1e" stroke-width="0.25" text-anchor="middle" >1273.5</text>
<text x="102.95" y="520.8" font-family="Liberation Sans" font-size="12.7" fill="#1e1e1e" stroke="#1e1e1e" stroke-width="0.25" text-anchor="middle" >1274</text>
<text x="153.1" y="520.8" font-family="Liberation Sans" font-size="12.7" fill="#1e1e1e" stroke="#1e1e1e" stroke-width="0.25" text-anchor="middle" >1274.5</text>
<text x="203.25" y="520.8" font-family="Liberation Sans" font-size="12.7" fill="#1e1e1e" stroke="#1e1e1e" stroke-width="0.25" text-anchor="middle" >1275</text>
<text x="47.8" y="429.2" font-family="Liberation Sans" font-size="12.7" fill="#1e1e1e" stroke="#1e1e1e" stroke-width="0.25" text-anchor="end" >0.5</text>
<text x="47.8" y="508.6" font-family="Liberation Sans" font-size="12.7" fill="#1e1e1e" stroke="#1e1e1e" stroke-width="0.25" text-anchor="end" >0</text>
<text transform="translate(25.9,463.4) rotate(-90)" font-family="Liberation Sans" font-size="14.4" fill="#1e1e1e" stroke="#1e1e1e" stroke-width="0.25" text-anchor="middle">Photocurrent (<tspan font-family="Liberation Serif" font-style="italic" dx="2">μ</tspan>A)</text>
<text x="143.2" y="539.8" font-family="Liberation Sans" font-size="14.4" fill="#1e1e1e" stroke="#1e1e1e" stroke-width="0.25" text-anchor="middle" >Wavelength (nm)</text>
<clipPath id="cd1"><rect x="340.8" y="294.2" width="177.3" height="80.60000000000002"/></clipPath>
<g clip-path="url(#cd1)">
<circle cx="341.1" cy="298.57" r="1.6" fill="#E4601F"/>
<circle cx="342.45" cy="298.6" r="1.6" fill="#E4601F"/>
<circle cx="343.8" cy="298.64" r="1.6" fill="#E4601F"/>
<circle cx="345.15" cy="298.67" r="1.6" fill="#E4601F"/>
<circle cx="346.5" cy="298.71" r="1.6" fill="#E4601F"/>
<circle cx="347.85" cy="298.75" r="1.6" fill="#E4601F"/>
<circle cx="349.2" cy="298.79" r="1.6" fill="#E4601F"/>
<circle cx="350.55" cy="298.83" r="1.6" fill="#E4601F"/>
<circle cx="351.9" cy="298.87" r="1.6" fill="#E4601F"/>
<circle cx="353.25" cy="298.91" r="1.6" fill="#E4601F"/>
<circle cx="354.6" cy="298.96" r="1.6" fill="#E4601F"/>
<circle cx="355.95" cy="299.01" r="1.6" fill="#E4601F"/>
<circle cx="357.3" cy="299.07" r="1.6" fill="#E4601F"/>
<circle cx="358.65" cy="299.12" r="1.6" fill="#E4601F"/>
<circle cx="360" cy="299.18" r="1.6" fill="#E4601F"/>
<circle cx="361.35" cy="299.25" r="1.6" fill="#E4601F"/>
<circle cx="362.7" cy="299.32" r="1.6" fill="#E4601F"/>
<circle cx="364.05" cy="299.39" r="1.6" fill="#E4601F"/>
<circle cx="365.4" cy="299.47" r="1.6" fill="#E4601F"/>
<circle cx="366.75" cy="299.55" r="1.6" fill="#E4601F"/>
<circle cx="368.1" cy="299.64" r="1.6" fill="#E4601F"/>
<circle cx="369.45" cy="299.74" r="1.6" fill="#E4601F"/>
<circle cx="370.8" cy="299.84" r="1.6" fill="#E4601F"/>
<circle cx="372.15" cy="299.96" r="1.6" fill="#E4601F"/>
<circle cx="373.5" cy="300.08" r="1.6" fill="#E4601F"/>
<circle cx="374.85" cy="300.21" r="1.6" fill="#E4601F"/>
<circle cx="376.2" cy="300.36" r="1.6" fill="#E4601F"/>
<circle cx="377.55" cy="300.52" r="1.6" fill="#E4601F"/>
<circle cx="378.9" cy="300.69" r="1.6" fill="#E4601F"/>
<circle cx="380.25" cy="300.88" r="1.6" fill="#E4601F"/>
<circle cx="381.6" cy="301.07" r="1.6" fill="#E4601F"/>
<circle cx="382.95" cy="301.3" r="1.6" fill="#E4601F"/>
<circle cx="384.3" cy="301.6" r="1.6" fill="#E4601F"/>
<circle cx="385.65" cy="302" r="1.6" fill="#E4601F"/>
<circle cx="387" cy="302.46" r="1.6" fill="#E4601F"/>
<circle cx="388.35" cy="302.97" r="1.6" fill="#E4601F"/>
<circle cx="389.7" cy="303.53" r="1.6" fill="#E4601F"/>
<circle cx="391.05" cy="304.11" r="1.6" fill="#E4601F"/>
<circle cx="392.4" cy="304.74" r="1.6" fill="#E4601F"/>
<circle cx="393.75" cy="305.44" r="1.6" fill="#E4601F"/>
<circle cx="395.1" cy="306.22" r="1.6" fill="#E4601F"/>
<circle cx="396.45" cy="307.09" r="1.6" fill="#E4601F"/>
<circle cx="397.8" cy="308.05" r="1.6" fill="#E4601F"/>
<circle cx="399.15" cy="309.13" r="1.6" fill="#E4601F"/>
<circle cx="400.5" cy="310.44" r="1.6" fill="#E4601F"/>
<circle cx="401.85" cy="312.03" r="1.6" fill="#E4601F"/>
<circle cx="403.2" cy="313.78" r="1.6" fill="#E4601F"/>
<circle cx="404.55" cy="315.62" r="1.6" fill="#E4601F"/>
<circle cx="405.9" cy="317.44" r="1.6" fill="#E4601F"/>
<circle cx="407.25" cy="319.3" r="1.6" fill="#E4601F"/>
<circle cx="408.6" cy="321.42" r="1.6" fill="#E4601F"/>
<circle cx="409.95" cy="324.12" r="1.6" fill="#E4601F"/>
<circle cx="411.3" cy="327.58" r="1.6" fill="#E4601F"/>
<circle cx="412.65" cy="331.67" r="1.6" fill="#E4601F"/>
<circle cx="414" cy="337.13" r="1.6" fill="#E4601F"/>
<circle cx="415.35" cy="343.31" r="1.6" fill="#E4601F"/>
<circle cx="416.7" cy="349.96" r="1.6" fill="#E4601F"/>
<circle cx="418.05" cy="357.26" r="1.6" fill="#E4601F"/>
<circle cx="419.4" cy="363.66" r="1.6" fill="#E4601F"/>
<circle cx="420.75" cy="368.71" r="1.6" fill="#E4601F"/>
<circle cx="422.1" cy="375.02" r="1.6" fill="#E4601F"/>
<circle cx="423.45" cy="370.96" r="1.6" fill="#E4601F"/>
<circle cx="424.8" cy="366.08" r="1.6" fill="#E4601F"/>
<circle cx="426.15" cy="360.36" r="1.6" fill="#E4601F"/>
<circle cx="427.5" cy="353.1" r="1.6" fill="#E4601F"/>
<circle cx="428.85" cy="346.22" r="1.6" fill="#E4601F"/>
<circle cx="430.2" cy="339.78" r="1.6" fill="#E4601F"/>
<circle cx="431.55" cy="333.94" r="1.6" fill="#E4601F"/>
<circle cx="432.9" cy="329.28" r="1.6" fill="#E4601F"/>
<circle cx="434.25" cy="325.61" r="1.6" fill="#E4601F"/>
<circle cx="435.6" cy="322.5" r="1.6" fill="#E4601F"/>
<circle cx="436.95" cy="320.2" r="1.6" fill="#E4601F"/>
<circle cx="438.3" cy="318.25" r="1.6" fill="#E4601F"/>
<circle cx="439.65" cy="316.43" r="1.6" fill="#E4601F"/>
<circle cx="441" cy="314.59" r="1.6" fill="#E4601F"/>
<circle cx="442.35" cy="312.79" r="1.6" fill="#E4601F"/>
<circle cx="443.7" cy="311.12" r="1.6" fill="#E4601F"/>
<circle cx="445.05" cy="309.67" r="1.6" fill="#E4601F"/>
<circle cx="446.4" cy="308.52" r="1.6" fill="#E4601F"/>
<circle cx="447.75" cy="307.51" r="1.6" fill="#E4601F"/>
<circle cx="449.1" cy="306.59" r="1.6" fill="#E4601F"/>
<circle cx="450.45" cy="305.78" r="1.6" fill="#E4601F"/>
<circle cx="451.8" cy="305.04" r="1.6" fill="#E4601F"/>
<circle cx="453.15" cy="304.38" r="1.6" fill="#E4601F"/>
<circle cx="454.5" cy="303.79" r="1.6" fill="#E4601F"/>
<circle cx="455.85" cy="303.22" r="1.6" fill="#E4601F"/>
<circle cx="457.2" cy="302.68" r="1.6" fill="#E4601F"/>
<circle cx="458.55" cy="302.19" r="1.6" fill="#E4601F"/>
<circle cx="459.9" cy="301.77" r="1.6" fill="#E4601F"/>
<circle cx="461.25" cy="301.42" r="1.6" fill="#E4601F"/>
<circle cx="462.6" cy="301.17" r="1.6" fill="#E4601F"/>
<circle cx="463.95" cy="300.96" r="1.6" fill="#E4601F"/>
<circle cx="465.3" cy="300.77" r="1.6" fill="#E4601F"/>
<circle cx="466.65" cy="300.59" r="1.6" fill="#E4601F"/>
<circle cx="468" cy="300.43" r="1.6" fill="#E4601F"/>
<circle cx="469.35" cy="300.28" r="1.6" fill="#E4601F"/>
<circle cx="470.7" cy="300.14" r="1.6" fill="#E4601F"/>
<circle cx="472.05" cy="300.01" r="1.6" fill="#E4601F"/>
<circle cx="473.4" cy="299.89" r="1.6" fill="#E4601F"/>
<circle cx="474.75" cy="299.78" r="1.6" fill="#E4601F"/>
<circle cx="476.1" cy="299.68" r="1.6" fill="#E4601F"/>
<circle cx="477.45" cy="299.59" r="1.6" fill="#E4601F"/>
<circle cx="478.8" cy="299.5" r="1.6" fill="#E4601F"/>
<circle cx="480.15" cy="299.42" r="1.6" fill="#E4601F"/>
<circle cx="481.5" cy="299.35" r="1.6" fill="#E4601F"/>
<circle cx="482.85" cy="299.28" r="1.6" fill="#E4601F"/>
<circle cx="484.2" cy="299.21" r="1.6" fill="#E4601F"/>
<circle cx="485.55" cy="299.15" r="1.6" fill="#E4601F"/>
<circle cx="486.9" cy="299.09" r="1.6" fill="#E4601F"/>
<circle cx="488.25" cy="299.04" r="1.6" fill="#E4601F"/>
<circle cx="489.6" cy="298.98" r="1.6" fill="#E4601F"/>
<circle cx="490.95" cy="298.94" r="1.6" fill="#E4601F"/>
<circle cx="492.3" cy="298.89" r="1.6" fill="#E4601F"/>
<circle cx="493.65" cy="298.85" r="1.6" fill="#E4601F"/>
<circle cx="495" cy="298.8" r="1.6" fill="#E4601F"/>
<circle cx="496.35" cy="298.76" r="1.6" fill="#E4601F"/>
<circle cx="497.7" cy="298.72" r="1.6" fill="#E4601F"/>
<circle cx="499.05" cy="298.69" r="1.6" fill="#E4601F"/>
<circle cx="500.4" cy="298.65" r="1.6" fill="#E4601F"/>
<circle cx="501.75" cy="298.62" r="1.6" fill="#E4601F"/>
<circle cx="503.1" cy="298.58" r="1.6" fill="#E4601F"/>
<circle cx="504.45" cy="298.55" r="1.6" fill="#E4601F"/>
<circle cx="505.8" cy="298.52" r="1.6" fill="#E4601F"/>
<circle cx="507.15" cy="298.48" r="1.6" fill="#E4601F"/>
<circle cx="508.5" cy="298.45" r="1.6" fill="#E4601F"/>
<circle cx="509.85" cy="298.42" r="1.6" fill="#E4601F"/>
<circle cx="511.2" cy="298.39" r="1.6" fill="#E4601F"/>
<circle cx="512.55" cy="298.36" r="1.6" fill="#E4601F"/>
<circle cx="513.9" cy="298.34" r="1.6" fill="#E4601F"/>
<circle cx="515.25" cy="298.31" r="1.6" fill="#E4601F"/>
<circle cx="516.6" cy="298.29" r="1.6" fill="#E4601F"/>
<circle cx="517.95" cy="298.26" r="1.6" fill="#E4601F"/>
</g>
<rect x="340.8" y="297.2" width="177.3" height="77.6" fill="none" stroke="#1c1c1c" stroke-width="1.65"/>
<path d="M347.2 374.8 V372.6 M347.2 297.2 V299.4" stroke="#1c1c1c" stroke-width="1"/>
<path d="M395.8 374.8 V372.6 M395.8 297.2 V299.4" stroke="#1c1c1c" stroke-width="1"/>
<path d="M444.4 374.8 V372.6 M444.4 297.2 V299.4" stroke="#1c1c1c" stroke-width="1"/>
<path d="M493 374.8 V372.6 M493 297.2 V299.4" stroke="#1c1c1c" stroke-width="1"/>
<path d="M340.8 297.2 H343 M518.1 297.2 H515.9" stroke="#1c1c1c" stroke-width="1"/>
<path d="M340.8 328.1 H343 M518.1 328.1 H515.9" stroke="#1c1c1c" stroke-width="1"/>
<path d="M340.8 359 H343 M518.1 359 H515.9" stroke="#1c1c1c" stroke-width="1"/>
<text x="347.2" y="391.9" font-family="Liberation Sans" font-size="12.7" fill="#1e1e1e" stroke="#1e1e1e" stroke-width="0.25" text-anchor="middle" >1185.6</text>
<text x="395.8" y="391.9" font-family="Liberation Sans" font-size="12.7" fill="#1e1e1e" stroke="#1e1e1e" stroke-width="0.25" text-anchor="middle" >1185.8</text>
<text x="444.4" y="391.9" font-family="Liberation Sans" font-size="12.7" fill="#1e1e1e" stroke="#1e1e1e" stroke-width="0.25" text-anchor="middle" >1186</text>
<text x="493" y="391.9" font-family="Liberation Sans" font-size="12.7" fill="#1e1e1e" stroke="#1e1e1e" stroke-width="0.25" text-anchor="middle" >1186.2</text>
<text x="335.8" y="302.1" font-family="Liberation Sans" font-size="12.7" fill="#1e1e1e" stroke="#1e1e1e" stroke-width="0.25" text-anchor="end" >0</text>
<text x="335.8" y="333" font-family="Liberation Sans" font-size="12.7" fill="#1e1e1e" stroke="#1e1e1e" stroke-width="0.25" text-anchor="end" >-5</text>
<text x="335.8" y="363.9" font-family="Liberation Sans" font-size="12.7" fill="#1e1e1e" stroke="#1e1e1e" stroke-width="0.25" text-anchor="end" >-10</text>
<text transform="translate(295.1,335.8) rotate(-90)" font-family="Liberation Sans" font-size="14.1" fill="#1e1e1e" stroke="#1e1e1e" stroke-width="0.25" text-anchor="middle" >Normalized</text>
<text transform="translate(311.5,335.8) rotate(-90)" font-family="Liberation Sans" font-size="14.4" fill="#1e1e1e" stroke="#1e1e1e" stroke-width="0.25" text-anchor="middle" >Transm. (dB)</text>
<text x="431.2" y="409" font-family="Liberation Sans" font-size="14.4" fill="#1e1e1e" stroke="#1e1e1e" stroke-width="0.25" text-anchor="middle" >Wavelength (nm)</text>
<text x="433" y="259" font-family="DejaVu Sans" font-size="16" fill="#E67A4A" text-anchor="middle" >λ = 1180 nm</text>
<text x="433" y="278" font-family="DejaVu Sans" font-size="16" fill="#E67A4A" text-anchor="middle" letter-spacing="0.3">Pin = 3.9 μW</text>
<circle cx="340.3" cy="500.17" r="1.6" fill="#E4601F"/>
<circle cx="341.72" cy="501.13" r="1.6" fill="#E4601F"/>
<circle cx="343.14" cy="500.38" r="1.6" fill="#E4601F"/>
<circle cx="344.56" cy="500.33" r="1.6" fill="#E4601F"/>
<circle cx="345.98" cy="499.88" r="1.6" fill="#E4601F"/>
<circle cx="347.4" cy="499.83" r="1.6" fill="#E4601F"/>
<circle cx="348.82" cy="500.16" r="1.6" fill="#E4601F"/>
<circle cx="350.24" cy="500.17" r="1.6" fill="#E4601F"/>
<circle cx="351.66" cy="499.94" r="1.6" fill="#E4601F"/>
<circle cx="353.08" cy="499.95" r="1.6" fill="#E4601F"/>
<circle cx="354.5" cy="499.61" r="1.6" fill="#E4601F"/>
<circle cx="355.92" cy="499.2" r="1.6" fill="#E4601F"/>
<circle cx="357.34" cy="499.3" r="1.6" fill="#E4601F"/>
<circle cx="358.76" cy="499.01" r="1.6" fill="#E4601F"/>
<circle cx="360.18" cy="498.55" r="1.6" fill="#E4601F"/>
<circle cx="361.6" cy="498.61" r="1.6" fill="#E4601F"/>
<circle cx="363.02" cy="498.57" r="1.6" fill="#E4601F"/>
<circle cx="364.44" cy="497.95" r="1.6" fill="#E4601F"/>
<circle cx="365.86" cy="497.47" r="1.6" fill="#E4601F"/>
<circle cx="367.28" cy="497.57" r="1.6" fill="#E4601F"/>
<circle cx="368.7" cy="497.7" r="1.6" fill="#E4601F"/>
<circle cx="370.12" cy="496.65" r="1.6" fill="#E4601F"/>
<circle cx="371.54" cy="496.38" r="1.6" fill="#E4601F"/>
<circle cx="372.96" cy="496.04" r="1.6" fill="#E4601F"/>
<circle cx="374.38" cy="496.15" r="1.6" fill="#E4601F"/>
<circle cx="375.8" cy="494.69" r="1.6" fill="#E4601F"/>
<circle cx="377.22" cy="495.03" r="1.6" fill="#E4601F"/>
<circle cx="378.64" cy="494.83" r="1.6" fill="#E4601F"/>
<circle cx="380.06" cy="493.58" r="1.6" fill="#E4601F"/>
<circle cx="381.48" cy="493.75" r="1.6" fill="#E4601F"/>
<circle cx="382.9" cy="492.58" r="1.6" fill="#E4601F"/>
<circle cx="384.32" cy="491.2" r="1.6" fill="#E4601F"/>
<circle cx="385.74" cy="490.37" r="1.6" fill="#E4601F"/>
<circle cx="387.16" cy="488.63" r="1.6" fill="#E4601F"/>
<circle cx="388.58" cy="487.87" r="1.6" fill="#E4601F"/>
<circle cx="390" cy="487.71" r="1.6" fill="#E4601F"/>
<circle cx="391.42" cy="485.9" r="1.6" fill="#E4601F"/>
<circle cx="392.84" cy="486.04" r="1.6" fill="#E4601F"/>
<circle cx="394.26" cy="484.43" r="1.6" fill="#E4601F"/>
<circle cx="395.68" cy="483.57" r="1.6" fill="#E4601F"/>
<circle cx="397.1" cy="481.36" r="1.6" fill="#E4601F"/>
<circle cx="398.52" cy="478.24" r="1.6" fill="#E4601F"/>
<circle cx="399.94" cy="476.43" r="1.6" fill="#E4601F"/>
<circle cx="401.36" cy="474.58" r="1.6" fill="#E4601F"/>
<circle cx="402.78" cy="472.26" r="1.6" fill="#E4601F"/>
<circle cx="404.2" cy="470.29" r="1.6" fill="#E4601F"/>
<circle cx="405.62" cy="468.64" r="1.6" fill="#E4601F"/>
<circle cx="407.04" cy="465.33" r="1.6" fill="#E4601F"/>
<circle cx="408.46" cy="461.64" r="1.6" fill="#E4601F"/>
<circle cx="409.88" cy="458.89" r="1.6" fill="#E4601F"/>
<circle cx="411.3" cy="456.79" r="1.6" fill="#E4601F"/>
<circle cx="412.72" cy="453.86" r="1.6" fill="#E4601F"/>
<circle cx="414.14" cy="452.02" r="1.6" fill="#E4601F"/>
<circle cx="415.56" cy="449.99" r="1.6" fill="#E4601F"/>
<circle cx="416.98" cy="447.4" r="1.6" fill="#E4601F"/>
<circle cx="418.4" cy="444.97" r="1.6" fill="#E4601F"/>
<circle cx="419.82" cy="442.45" r="1.6" fill="#E4601F"/>
<circle cx="421.24" cy="439.88" r="1.6" fill="#E4601F"/>
<circle cx="422.66" cy="439.5" r="1.6" fill="#E4601F"/>
<circle cx="424.08" cy="441.73" r="1.6" fill="#E4601F"/>
<circle cx="425.5" cy="445.7" r="1.6" fill="#E4601F"/>
<circle cx="426.92" cy="448.82" r="1.6" fill="#E4601F"/>
<circle cx="428.34" cy="451.22" r="1.6" fill="#E4601F"/>
<circle cx="429.76" cy="452.69" r="1.6" fill="#E4601F"/>
<circle cx="431.18" cy="454.59" r="1.6" fill="#E4601F"/>
<circle cx="432.6" cy="456.78" r="1.6" fill="#E4601F"/>
<circle cx="434.02" cy="460.55" r="1.6" fill="#E4601F"/>
<circle cx="435.44" cy="465.27" r="1.6" fill="#E4601F"/>
<circle cx="436.86" cy="468.75" r="1.6" fill="#E4601F"/>
<circle cx="438.28" cy="472.23" r="1.6" fill="#E4601F"/>
<circle cx="439.7" cy="475.8" r="1.6" fill="#E4601F"/>
<circle cx="441.12" cy="477.79" r="1.6" fill="#E4601F"/>
<circle cx="442.54" cy="480.67" r="1.6" fill="#E4601F"/>
<circle cx="443.96" cy="481.57" r="1.6" fill="#E4601F"/>
<circle cx="445.38" cy="482.57" r="1.6" fill="#E4601F"/>
<circle cx="446.8" cy="484.63" r="1.6" fill="#E4601F"/>
<circle cx="448.22" cy="486.02" r="1.6" fill="#E4601F"/>
<circle cx="449.64" cy="487.12" r="1.6" fill="#E4601F"/>
<circle cx="451.06" cy="489.05" r="1.6" fill="#E4601F"/>
<circle cx="452.48" cy="489.48" r="1.6" fill="#E4601F"/>
<circle cx="453.9" cy="489.63" r="1.6" fill="#E4601F"/>
<circle cx="455.32" cy="491.87" r="1.6" fill="#E4601F"/>
<circle cx="456.74" cy="492.2" r="1.6" fill="#E4601F"/>
<circle cx="458.16" cy="493.69" r="1.6" fill="#E4601F"/>
<circle cx="459.58" cy="493.63" r="1.6" fill="#E4601F"/>
<circle cx="461" cy="494.07" r="1.6" fill="#E4601F"/>
<circle cx="462.42" cy="495.57" r="1.6" fill="#E4601F"/>
<circle cx="463.84" cy="495.13" r="1.6" fill="#E4601F"/>
<circle cx="465.26" cy="496.01" r="1.6" fill="#E4601F"/>
<circle cx="466.68" cy="496.84" r="1.6" fill="#E4601F"/>
<circle cx="468.1" cy="496.73" r="1.6" fill="#E4601F"/>
<circle cx="469.52" cy="497" r="1.6" fill="#E4601F"/>
<circle cx="470.94" cy="497.37" r="1.6" fill="#E4601F"/>
<circle cx="472.36" cy="497.91" r="1.6" fill="#E4601F"/>
<circle cx="473.78" cy="497.6" r="1.6" fill="#E4601F"/>
<circle cx="475.2" cy="498.35" r="1.6" fill="#E4601F"/>
<circle cx="476.62" cy="498.57" r="1.6" fill="#E4601F"/>
<circle cx="478.04" cy="499.41" r="1.6" fill="#E4601F"/>
<circle cx="479.46" cy="498.7" r="1.6" fill="#E4601F"/>
<circle cx="480.88" cy="498.71" r="1.6" fill="#E4601F"/>
<circle cx="482.3" cy="499.49" r="1.6" fill="#E4601F"/>
<circle cx="483.72" cy="499.28" r="1.6" fill="#E4601F"/>
<circle cx="485.14" cy="499.7" r="1.6" fill="#E4601F"/>
<circle cx="486.56" cy="499.82" r="1.6" fill="#E4601F"/>
<circle cx="487.98" cy="500.34" r="1.6" fill="#E4601F"/>
<circle cx="489.4" cy="499.85" r="1.6" fill="#E4601F"/>
<circle cx="490.82" cy="500.18" r="1.6" fill="#E4601F"/>
<circle cx="492.24" cy="499.44" r="1.6" fill="#E4601F"/>
<circle cx="493.66" cy="500.15" r="1.6" fill="#E4601F"/>
<circle cx="495.08" cy="501.11" r="1.6" fill="#E4601F"/>
<circle cx="496.5" cy="500.45" r="1.6" fill="#E4601F"/>
<circle cx="497.92" cy="500.56" r="1.6" fill="#E4601F"/>
<circle cx="499.34" cy="500.49" r="1.6" fill="#E4601F"/>
<circle cx="500.76" cy="501.23" r="1.6" fill="#E4601F"/>
<circle cx="502.18" cy="501.19" r="1.6" fill="#E4601F"/>
<circle cx="503.6" cy="500.82" r="1.6" fill="#E4601F"/>
<circle cx="505.02" cy="501.56" r="1.6" fill="#E4601F"/>
<circle cx="506.44" cy="501.51" r="1.6" fill="#E4601F"/>
<circle cx="507.86" cy="501.76" r="1.6" fill="#E4601F"/>
<circle cx="509.28" cy="501.35" r="1.6" fill="#E4601F"/>
<circle cx="510.7" cy="502.26" r="1.6" fill="#E4601F"/>
<circle cx="512.12" cy="501.86" r="1.6" fill="#E4601F"/>
<circle cx="513.54" cy="501.73" r="1.6" fill="#E4601F"/>
<circle cx="514.96" cy="501.64" r="1.6" fill="#E4601F"/>
<circle cx="516.38" cy="501.78" r="1.6" fill="#E4601F"/>
<circle cx="517.8" cy="502.2" r="1.6" fill="#E4601F"/>
<rect x="340" y="424.1" width="178.1" height="79.5" fill="none" stroke="#1c1c1c" stroke-width="1.65"/>
<path d="M347.2 503.6 V501.4 M347.2 424.1 V426.3" stroke="#1c1c1c" stroke-width="1"/>
<path d="M395.8 503.6 V501.4 M395.8 424.1 V426.3" stroke="#1c1c1c" stroke-width="1"/>
<path d="M444.4 503.6 V501.4 M444.4 424.1 V426.3" stroke="#1c1c1c" stroke-width="1"/>
<path d="M493 503.6 V501.4 M493 424.1 V426.3" stroke="#1c1c1c" stroke-width="1"/>
<path d="M340 503.6 H342.2 M518.1 503.6 H515.9" stroke="#1c1c1c" stroke-width="1"/>
<path d="M340 477.1 H342.2 M518.1 477.1 H515.9" stroke="#1c1c1c" stroke-width="1"/>
<path d="M340 450.6 H342.2 M518.1 450.6 H515.9" stroke="#1c1c1c" stroke-width="1"/>
<path d="M340 424.1 H342.2 M518.1 424.1 H515.9" stroke="#1c1c1c" stroke-width="1"/>
<text x="347.2" y="520.7" font-family="Liberation Sans" font-size="12.7" fill="#1e1e1e" stroke="#1e1e1e" stroke-width="0.25" text-anchor="middle" >1185.6</text>
<text x="395.8" y="520.7" font-family="Liberation Sans" font-size="12.7" fill="#1e1e1e" stroke="#1e1e1e" stroke-width="0.25" text-anchor="middle" >1185.8</text>
<text x="444.4" y="520.7" font-family="Liberation Sans" font-size="12.7" fill="#1e1e1e" stroke="#1e1e1e" stroke-width="0.25" text-anchor="middle" >1186</text>
<text x="493" y="520.7" font-family="Liberation Sans" font-size="12.7" fill="#1e1e1e" stroke="#1e1e1e" stroke-width="0.25" text-anchor="middle" >1186.2</text>
<text x="335" y="508.5" font-family="Liberation Sans" font-size="12.7" fill="#1e1e1e" stroke="#1e1e1e" stroke-width="0.25" text-anchor="end" >0</text>
<text x="335" y="482" font-family="Liberation Sans" font-size="12.7" fill="#1e1e1e" stroke="#1e1e1e" stroke-width="0.25" text-anchor="end" >0.5</text>
<text x="335" y="455.5" font-family="Liberation Sans" font-size="12.7" fill="#1e1e1e" stroke="#1e1e1e" stroke-width="0.25" text-anchor="end" >1</text>
<text x="335" y="429" font-family="Liberation Sans" font-size="12.7" fill="#1e1e1e" stroke="#1e1e1e" stroke-width="0.25" text-anchor="end" >1.5</text>
<text transform="translate(312.1,463.8) rotate(-90)" font-family="Liberation Sans" font-size="14.4" fill="#1e1e1e" stroke="#1e1e1e" stroke-width="0.25" text-anchor="middle">Photocurrent (<tspan font-family="Liberation Serif" font-style="italic" dx="2">μ</tspan>A)</text>
<text x="427.6" y="536" font-family="Liberation Sans" font-size="14.4" fill="#1e1e1e" stroke="#1e1e1e" stroke-width="0.25" text-anchor="middle" >Wavelength (nm)</text>
<path d="M50.1 652.1 L227.9 642.3" fill="none" stroke="#2A6EA6" stroke-width="1.9" stroke-linejoin="round" stroke-linecap="round" stroke-dasharray="6 6" stroke-linecap="butt"/>
<path d="M50.1 663.6 L227.9 653.4" fill="none" stroke="#ADC8DE" stroke-width="1.9" stroke-linejoin="round" stroke-linecap="round" stroke-dasharray="6 6" stroke-linecap="butt"/>
<path d="M50.6 608.2 L51.12 608.4 L51.65 608.6 L52.17 608.81 L52.7 609.01 L53.22 609.22 L53.74 609.43 L54.27 609.64 L54.79 609.85 L55.32 610.06 L55.84 610.28 L56.36 610.49 L56.89 610.71 L57.41 610.94 L57.94 611.16 L58.46 611.39 L58.99 611.62 L59.51 611.86 L60.03 612.1 L60.56 612.34 L61.08 612.58 L61.61 612.82 L62.13 613.07 L62.65 613.32 L63.18 613.57 L63.7 613.82 L64.23 614.08 L64.75 614.34 L65.27 614.6 L65.8 614.86 L66.32 615.12 L66.85 615.38 L67.37 615.65 L67.89 615.92 L68.42 616.18 L68.94 616.45 L69.47 616.73 L69.99 617 L70.52 617.27 L71.04 617.55 L71.56 617.83 L72.09 618.11 L72.61 618.39 L73.14 618.67 L73.66 618.95 L74.18 619.23 L74.71 619.52 L75.23 619.8 L75.76 620.09 L76.28 620.37 L76.8 620.66 L77.33 620.95 L77.85 621.24 L78.38 621.53 L78.9 621.82 L79.42 622.11 L79.95 622.4 L80.47 622.69 L81 622.98 L81.52 623.28 L82.04 623.57 L82.57 623.86 L83.09 624.15 L83.62 624.45 L84.14 624.74 L84.67 625.03 L85.19 625.33 L85.71 625.62 L86.24 625.91 L86.76 626.21 L87.29 626.5 L87.81 626.79 L88.33 627.08 L88.86 627.38 L89.38 627.67 L89.91 627.96 L90.43 628.25 L90.95 628.55 L91.48 628.84 L92 629.14 L92.53 629.43 L93.05 629.73 L93.57 630.03 L94.1 630.33 L94.62 630.62 L95.15 630.92 L95.67 631.22 L96.19 631.52 L96.72 631.82 L97.24 632.12 L97.77 632.43 L98.29 632.73 L98.82 633.03 L99.34 633.34 L99.86 633.64 L100.39 633.94 L100.91 634.25 L101.44 634.56 L101.96 634.86 L102.48 635.17 L103.01 635.48 L103.53 635.78 L104.06 636.09 L104.58 636.4 L105.1 636.71 L105.63 637.02 L106.15 637.33 L106.68 637.64 L107.2 637.95 L107.72 638.26 L108.25 638.58 L108.77 638.89 L109.3 639.2 L109.82 639.52 L110.35 639.83 L110.87 640.15 L111.39 640.46 L111.92 640.78 L112.44 641.09 L112.97 641.41 L113.49 641.73 L114.01 642.04 L114.54 642.36 L115.06 642.68 L115.59 643 L116.11 643.32 L116.63 643.64 L117.16 643.96 L117.68 644.28 L118.21 644.6 L118.73 644.92 L119.25 645.24 L119.78 645.56 L120.3 645.89 L120.83 646.21 L121.35 646.54 L121.87 646.86 L122.4 647.19 L122.92 647.52 L123.45 647.86 L123.97 648.19 L124.5 648.52 L125.02 648.86 L125.54 649.19 L126.07 649.53 L126.59 649.87 L127.12 650.21 L127.64 650.55 L128.16 650.89 L128.69 651.23 L129.21 651.57 L129.74 651.91 L130.26 652.25 L130.78 652.59 L131.31 652.93 L131.83 653.27 L132.36 653.61 L132.88 653.95 L133.4 654.29 L133.93 654.63 L134.45 654.97 L134.98 655.31 L135.5 655.65 L136.03 655.98 L136.55 656.32 L137.07 656.65 L137.6 656.99 L138.12 657.32 L138.65 657.65 L139.17 657.98 L139.69 658.31 L140.22 658.64 L140.74 658.96 L141.27 659.28 L141.79 659.6 L142.31 659.92 L142.84 660.24 L143.36 660.56 L143.89 660.87 L144.41 661.19 L144.93 661.5 L145.46 661.81 L145.98 662.12 L146.51 662.43 L147.03 662.74 L147.55 663.05 L148.08 663.36 L148.6 663.67 L149.13 663.98 L149.65 664.29 L150.18 664.59 L150.7 664.9 L151.22 665.21 L151.75 665.52 L152.27 665.84 L152.8 666.15 L153.32 666.46 L153.84 666.77 L154.37 667.09 L154.89 667.41 L155.42 667.72 L155.94 668.04 L156.46 668.36 L156.99 668.69 L157.51 669.01 L158.04 669.34 L158.56 669.67 L159.08 670 L159.61 670.33 L160.13 670.67 L160.66 671.01 L161.18 671.35 L161.71 671.7 L162.23 672.04 L162.75 672.38 L163.28 672.72 L163.8 673.07 L164.33 673.41 L164.85 673.76 L165.37 674.11 L165.9 674.47 L166.42 674.83 L166.95 675.19 L167.47 675.56 L167.99 675.94 L168.52 676.32 L169.04 676.71 L169.57 677.11 L170.09 677.52 L170.61 677.93 L171.14 678.36 L171.66 678.79 L172.19 679.23 L172.71 679.68 L173.23 680.14 L173.76 680.6 L174.28 681.08 L174.81 681.56 L175.33 682.05 L175.86 682.55 L176.38 683.06 L176.9 683.58 L177.43 684.11 L177.95 684.65 L178.48 685.19 L179 685.74 L179.52 686.31 L180.05 686.88 L180.57 687.47 L181.1 688.08 L181.62 688.7 L182.14 689.33 L182.67 689.98 L183.19 690.64 L183.72 691.31 L184.24 691.99 L184.76 692.69 L185.29 693.39 L185.81 694.1 L186.34 694.83 L186.86 695.56 L187.38 696.3 L187.91 697.04 L188.43 697.78 L188.96 698.53 L189.48 699.28 L190.01 700.04 L190.53 700.82 L191.05 701.62 L191.58 702.44 L192.1 703.28 L192.63 704.16 L193.15 705.07 L193.67 706.01 L194.2 707.01 L194.72 708.05 L195.25 709.18 L195.77 710.38 L196.29 711.64 L196.82 712.96 L197.34 714.33 L197.87 715.74 L198.39 717.18 L198.91 718.64 L199.44 720.15 L199.96 721.73 L200.49 723.37 L201.01 725.06 L201.54 726.78 L202.06 728.53 L202.58 730.28 L203.11 732.03 L203.63 733.81 L204.16 735.62 L204.68 737.46 L205.2 739.31 L205.73 741.19 L206.25 743.09 L206.78 745.03 L207.3 747" fill="none" stroke="#506230" stroke-width="1.8" stroke-linejoin="round" stroke-linecap="round" stroke-dasharray="6 5.5" stroke-linecap="butt"/>
<circle cx="97.51" cy="634.2" r="2.5" fill="none" stroke="#506230" stroke-width="1.8"/>
<path d="M95.61 628.7 L99.41 632.5 M95.61 632.5 L99.41 628.7" stroke="#506230" stroke-width="1.6"/>
<circle cx="150.85" cy="679.2" r="2.5" fill="none" stroke="#506230" stroke-width="1.8"/>
<path d="M148.75 661.7 L152.95 665.9 M148.75 665.9 L152.95 661.7" stroke="#506230" stroke-width="1.7"/>
<path d="M95.41 646.9 L99.61 651.1 M95.41 651.1 L99.61 646.9" stroke="#2A6EA6" stroke-width="1.7"/>
<path d="M148.75 643.1 L152.95 647.3 M148.75 647.3 L152.95 643.1" stroke="#2A6EA6" stroke-width="1.7"/>
<circle cx="97.51" cy="663" r="2.5" fill="none" stroke="#ADC8DE" stroke-width="1.6"/>
<circle cx="150.85" cy="660.4" r="2.5" fill="none" stroke="#ADC8DE" stroke-width="1.6"/>
<rect x="50.1" y="607.7" width="177.8" height="152.2" fill="none" stroke="#1c1c1c" stroke-width="1.65"/>
<path d="M50.1 759.9 V757.7 M50.1 607.7 V609.9" stroke="#1c1c1c" stroke-width="1"/>
<path d="M109.37 759.9 V757.7 M109.37 607.7 V609.9" stroke="#1c1c1c" stroke-width="1"/>
<path d="M168.63 759.9 V757.7 M168.63 607.7 V609.9" stroke="#1c1c1c" stroke-width="1"/>
<path d="M227.9 759.9 V757.7 M227.9 607.7 V609.9" stroke="#1c1c1c" stroke-width="1"/>
<path d="M50.1 607.7 H52.3 M227.9 607.7 H225.7" stroke="#1c1c1c" stroke-width="1"/>
<path d="M50.1 683.8 H52.3 M227.9 683.8 H225.7" stroke="#1c1c1c" stroke-width="1"/>
<path d="M50.1 759.9 H52.3 M227.9 759.9 H225.7" stroke="#1c1c1c" stroke-width="1"/>
<text x="50.1" y="777" font-family="Liberation Sans" font-size="12.7" fill="#1e1e1e" stroke="#1e1e1e" stroke-width="0.25" text-anchor="middle" >1100</text>
<text x="109.37" y="777" font-family="Liberation Sans" font-size="12.7" fill="#1e1e1e" stroke="#1e1e1e" stroke-width="0.25" text-anchor="middle" >1200</text>
<text x="168.63" y="777" font-family="Liberation Sans" font-size="12.7" fill="#1e1e1e" stroke="#1e1e1e" stroke-width="0.25" text-anchor="middle" >1300</text>
<text x="227.9" y="777" font-family="Liberation Sans" font-size="12.7" fill="#1e1e1e" stroke="#1e1e1e" stroke-width="0.25" text-anchor="middle" >1400</text>
<text x="45.7" y="614.3" font-family="Liberation Sans" font-size="12.4" fill="#1e1e1e" stroke="#1e1e1e" stroke-width="0.25" text-anchor="end">10<tspan font-size="9.8" dy="-6.3">2</tspan></text>
<text x="45.7" y="690.4" font-family="Liberation Sans" font-size="12.4" fill="#1e1e1e" stroke="#1e1e1e" stroke-width="0.25" text-anchor="end">10<tspan font-size="9.8" dy="-6.3">0</tspan></text>
<text x="45.7" y="766.5" font-family="Liberation Sans" font-size="12.4" fill="#1e1e1e" stroke="#1e1e1e" stroke-width="0.25" text-anchor="end">10<tspan font-size="9.8" dy="-6.3">-2</tspan></text>
<text transform="translate(21.6,683.6) rotate(-90)" font-family="Liberation Sans" font-size="14.4" fill="#1e1e1e" stroke="#1e1e1e" stroke-width="0.25" text-anchor="middle"><tspan font-family="DejaVu Serif" font-style="italic" font-size="12.3">α</tspan> <tspan dx="0.8">(cm</tspan><tspan font-size="9.5" dy="-5.5">-1</tspan><tspan dy="5.5">)</tspan></text>
<text x="139.7" y="795.4" font-family="Liberation Sans" font-size="14.4" fill="#1e1e1e" stroke="#1e1e1e" stroke-width="0.25" text-anchor="middle" >Wavelength (nm)</text>
<text x="57.4" y="722.2" font-family="DejaVu Sans" font-size="12.4" fill="#56633A" stroke="#56633A" stroke-width="0.12" >SiGe absorption</text>
<text x="57.4" y="737" font-family="DejaVu Sans" font-size="12.4" fill="#AFC4D6" stroke="#AFC4D6" stroke-width="0.12" >FCA, 1x doping</text>
<text x="57.4" y="751.8" font-family="DejaVu Sans" font-size="12.4" fill="#2F6B9C" stroke="#2F6B9C" stroke-width="0.12" >FCA, 2x doping</text>
<rect x="86.5" y="573.6" width="176" height="45" fill="#fff" stroke="#111" stroke-width="1.7"/>
<path d="M89.5 581.2 H118" stroke="#111" stroke-width="1.5" stroke-dasharray="4.2 2.6"/>
<text x="126" y="585" font-family="DejaVu Sans" font-size="11.05" fill="#111" stroke="#111" stroke-width="0.12" >Literature data</text>
<circle cx="97.7" cy="595.3" r="2.9" fill="none" stroke="#111" stroke-width="1.9"/>
<text x="106.6" y="599" font-family="DejaVu Sans" font-size="11.05" fill="#111" stroke="#111" stroke-width="0.12" >Experimental, Gen1 design</text>
<path d="M95.2 607.5 L100.2 612.5 M95.2 612.5 L100.2 607.5" stroke="#111" stroke-width="2.2"/>
<text x="106.6" y="613" font-family="DejaVu Sans" font-size="11.05" fill="#111" stroke="#111" stroke-width="0.12" >Experimental, Gen2 design</text>
<rect x="270.3" y="580.8" width="243.49999999999994" height="24.5" fill="#6BAC45"/>
<rect x="270.3" y="605.3" width="243.49999999999994" height="25.600000000000023" fill="#ECEFEA"/>
<rect x="270.3" y="630.9" width="243.49999999999994" height="24.600000000000023" fill="#ECEFEA"/>
<rect x="270.3" y="655.5" width="243.49999999999994" height="16.100000000000023" fill="#ECEFEA"/>
<path d="M270.3 630.9 H513.8" stroke="#5a5a5a" stroke-width="1.25"/>
<path d="M270.3 655.5 H513.8" stroke="#5a5a5a" stroke-width="1.25"/>
<path d="M362.2 580.8 V671.6" stroke="#5a5a5a" stroke-width="1.25"/>
<path d="M432.0 580.8 V671.6" stroke="#5a5a5a" stroke-width="1.25"/>
<rect x="270.3" y="605.3" width="243.49999999999994" height="66.30000000000007" fill="none" stroke="#5a5a5a" stroke-width="1.25"/>
<rect x="270.3" y="580.8" width="243.49999999999994" height="24.5" fill="none" stroke="#3F6E2A" stroke-width="1.1"/>
<path d="M362.2 580.8 V605.3" stroke="#3F6E2A" stroke-width="1.1"/>
<path d="M432.0 580.8 V605.3" stroke="#3F6E2A" stroke-width="1.1"/>
<text x="316.25" y="590.5" font-family="DejaVu Sans" font-size="7.8" fill="#F4FFF0" text-anchor="middle" font-weight="bold" letter-spacing="0.35">SiGe phonon-</text>
<text x="316.25" y="599.5" font-family="DejaVu Sans" font-size="7.8" fill="#F4FFF0" text-anchor="middle" font-weight="bold">assisted absorption</text>
<text x="397.1" y="596.45" font-family="Liberation Sans" font-size="9.9" fill="#F4FFF0" text-anchor="middle" font-weight="bold">λ = 1180 nm</text>
<text x="472.9" y="596.45" font-family="Liberation Sans" font-size="9.9" fill="#F4FFF0" text-anchor="middle" font-weight="bold">λ = 1270 nm</text>
<text x="316.25" y="615.5" font-family="DejaVu Sans" font-size="9.15" fill="#1a1a1a" stroke="#1a1a1a" stroke-width="0.15" text-anchor="middle" >Experimental,</text>
<text x="316.25" y="626.1" font-family="DejaVu Sans" font-size="9.15" fill="#1a1a1a" stroke="#1a1a1a" stroke-width="0.15" text-anchor="middle" >Gen1 design</text>
<text x="397.1" y="622" text-anchor="middle" font-family="Liberation Sans" font-size="9.9" fill="#1a1a1a" stroke="#1a1a1a" stroke-width="0.3">19.6 <tspan font-family="Liberation Serif" font-style="italic" font-size="12.3">cm</tspan><tspan font-size="8" dy="-4.6">−1</tspan></text>
<text x="472.9" y="622" text-anchor="middle" font-family="Liberation Sans" font-size="9.9" fill="#1a1a1a" stroke="#1a1a1a" stroke-width="0.3">1.3 <tspan font-family="Liberation Serif" font-style="italic" font-size="12.3">cm</tspan><tspan font-size="8" dy="-4.6">−1</tspan></text>
<text x="316.25" y="640.5" font-family="DejaVu Sans" font-size="9.15" fill="#1a1a1a" stroke="#1a1a1a" stroke-width="0.15" text-anchor="middle" >Experimental,</text>
<text x="316.25" y="651" font-family="DejaVu Sans" font-size="9.15" fill="#1a1a1a" stroke="#1a1a1a" stroke-width="0.15" text-anchor="middle" >Gen2 design</text>
<text x="397.1" y="646.6" text-anchor="middle" font-family="Liberation Sans" font-size="9.9" fill="#1a1a1a" stroke="#1a1a1a" stroke-width="0.3">22.6 <tspan font-family="Liberation Serif" font-style="italic" font-size="12.3">cm</tspan><tspan font-size="8" dy="-4.6">−1</tspan></text>
<text x="472.9" y="646.6" text-anchor="middle" font-family="Liberation Sans" font-size="9.9" fill="#1a1a1a" stroke="#1a1a1a" stroke-width="0.3">3.3 <tspan font-family="Liberation Serif" font-style="italic" font-size="12.3">cm</tspan><tspan font-size="8" dy="-4.6">−1</tspan></text>
<text x="316.25" y="666.5" font-family="DejaVu Sans" font-size="9.15" fill="#1a1a1a" stroke="#1a1a1a" stroke-width="0.15" text-anchor="middle" >Literature data <tspan font-size="8.4" fill="#333">[35]</tspan></text>
<text x="397.1" y="667.4" text-anchor="middle" font-family="Liberation Sans" font-size="9.9" fill="#1a1a1a" stroke="#1a1a1a" stroke-width="0.3">24.83 <tspan font-family="Liberation Serif" font-style="italic" font-size="12.3">cm</tspan><tspan font-size="8" dy="-4.6">−1</tspan></text>
<text x="472.9" y="667.4" text-anchor="middle" font-family="Liberation Sans" font-size="9.9" fill="#1a1a1a" stroke="#1a1a1a" stroke-width="0.3">3.2 <tspan font-family="Liberation Serif" font-style="italic" font-size="12.3">cm</tspan><tspan font-size="8" dy="-4.6">−1</tspan></text>
<rect x="270.3" y="679.5" width="243.49999999999994" height="25.0" fill="#4472C4"/>
<rect x="270.3" y="704.5" width="243.49999999999994" height="16.100000000000023" fill="#E9EBF4"/>
<rect x="270.3" y="720.6" width="243.49999999999994" height="25.0" fill="#E9EBF4"/>
<rect x="270.3" y="745.6" width="243.49999999999994" height="16.0" fill="#C6DAF0"/>
<rect x="270.3" y="761.6" width="243.49999999999994" height="25.600000000000023" fill="#C6DAF0"/>
<path d="M270.3 720.6 H513.8" stroke="#5a5a5a" stroke-width="1.25"/>
<path d="M270.3 745.6 H513.8" stroke="#5a5a5a" stroke-width="1.25"/>
<path d="M270.3 761.6 H513.8" stroke="#5a5a5a" stroke-width="1.25"/>
<path d="M362.2 679.5 V787.2" stroke="#5a5a5a" stroke-width="1.25"/>
<path d="M432.0 679.5 V787.2" stroke="#5a5a5a" stroke-width="1.25"/>
<rect x="270.3" y="704.5" width="243.49999999999994" height="82.70000000000005" fill="none" stroke="#5a5a5a" stroke-width="1.25"/>
<rect x="270.3" y="679.5" width="243.49999999999994" height="25.0" fill="none" stroke="#2F4F8A" stroke-width="1.1"/>
<path d="M362.2 679.5 V704.5" stroke="#2F4F8A" stroke-width="1.1"/>
<path d="M432.0 679.5 V704.5" stroke="#2F4F8A" stroke-width="1.1"/>
<text x="316.25" y="689" font-family="DejaVu Sans" font-size="7.8" fill="#F4FFF0" text-anchor="middle" font-weight="bold">Free carrier</text>
<text x="316.25" y="698.7" font-family="DejaVu Sans" font-size="7.8" fill="#F4FFF0" text-anchor="middle" font-weight="bold">absorption (FCA)</text>
<text x="397.1" y="695.4" font-family="Liberation Sans" font-size="9.9" fill="#F4FFF0" text-anchor="middle" font-weight="bold">λ = 1180 nm</text>
<text x="472.9" y="695.4" font-family="Liberation Sans" font-size="9.9" fill="#F4FFF0" text-anchor="middle" font-weight="bold">λ = 1270 nm</text>
<text x="316.25" y="715.4" font-family="DejaVu Sans" font-size="9.15" fill="#1a1a1a" stroke="#1a1a1a" stroke-width="0.15" text-anchor="middle" >Gen1 design (exp)</text>
<text x="397.1" y="716" text-anchor="middle" font-family="Liberation Sans" font-size="9.9" fill="#1a1a1a" stroke="#1a1a1a" stroke-width="0.3">3.4 <tspan font-family="Liberation Serif" font-style="italic" font-size="12.3">cm</tspan><tspan font-size="8" dy="-4.6">−1</tspan></text>
<text x="472.9" y="716" text-anchor="middle" font-family="Liberation Sans" font-size="9.9" fill="#1a1a1a" stroke="#1a1a1a" stroke-width="0.3">4.14 <tspan font-family="Liberation Serif" font-style="italic" font-size="12.3">cm</tspan><tspan font-size="8" dy="-4.6">−1</tspan></text>
<text x="316.25" y="730.2" font-family="DejaVu Sans" font-size="9.15" fill="#1a1a1a" stroke="#1a1a1a" stroke-width="0.15" text-anchor="middle" >Literature data <tspan font-size="8.4" fill="#333">[36]</tspan></text>
<text x="316.25" y="741.4" font-family="DejaVu Sans" font-size="9.15" fill="#1a1a1a" stroke="#1a1a1a" stroke-width="0.15" text-anchor="middle" >1x doping</text>
<text x="397.1" y="737" text-anchor="middle" font-family="Liberation Sans" font-size="9.9" fill="#1a1a1a" stroke="#1a1a1a" stroke-width="0.3">3.92 <tspan font-family="Liberation Serif" font-style="italic" font-size="12.3">cm</tspan><tspan font-size="8" dy="-4.6">−1</tspan></text>
<text x="472.9" y="737" text-anchor="middle" font-family="Liberation Sans" font-size="9.9" fill="#1a1a1a" stroke="#1a1a1a" stroke-width="0.3">4.76 <tspan font-family="Liberation Serif" font-style="italic" font-size="12.3">cm</tspan><tspan font-size="8" dy="-4.6">−1</tspan></text>
<text x="316.25" y="756.4" font-family="DejaVu Sans" font-size="9.15" fill="#1a1a1a" stroke="#1a1a1a" stroke-width="0.15" text-anchor="middle" >Gen2 design (exp)</text>
<text x="397.1" y="757.4" text-anchor="middle" font-family="Liberation Sans" font-size="9.9" fill="#1a1a1a" stroke="#1a1a1a" stroke-width="0.3">8.13 <tspan font-family="Liberation Serif" font-style="italic" font-size="12.3">cm</tspan><tspan font-size="8" dy="-4.6">−1</tspan></text>
<text x="472.9" y="757.4" text-anchor="middle" font-family="Liberation Sans" font-size="9.9" fill="#1a1a1a" stroke="#1a1a1a" stroke-width="0.3">10.25 <tspan font-family="Liberation Serif" font-style="italic" font-size="12.3">cm</tspan><tspan font-size="8" dy="-4.6">−1</tspan></text>
<text x="316.25" y="771.6" font-family="DejaVu Sans" font-size="9.15" fill="#1a1a1a" stroke="#1a1a1a" stroke-width="0.15" text-anchor="middle" >Literature data <tspan font-size="8.4" fill="#333">[36]</tspan></text>
<text x="316.25" y="782.7" font-family="DejaVu Sans" font-size="9.15" fill="#1a1a1a" stroke="#1a1a1a" stroke-width="0.15" text-anchor="middle" >2x doping</text>
<text x="397.1" y="777.4" text-anchor="middle" font-family="Liberation Sans" font-size="9.9" fill="#1a1a1a" stroke="#1a1a1a" stroke-width="0.3">7.85 <tspan font-family="Liberation Serif" font-style="italic" font-size="12.3">cm</tspan><tspan font-size="8" dy="-4.6">−1</tspan></text>
<text x="472.9" y="777.4" text-anchor="middle" font-family="Liberation Sans" font-size="9.9" fill="#1a1a1a" stroke="#1a1a1a" stroke-width="0.3">9.5 <tspan font-family="Liberation Serif" font-style="italic" font-size="12.3">cm</tspan><tspan font-size="8" dy="-4.6">−1</tspan></text>
</svg>
</body></html>
